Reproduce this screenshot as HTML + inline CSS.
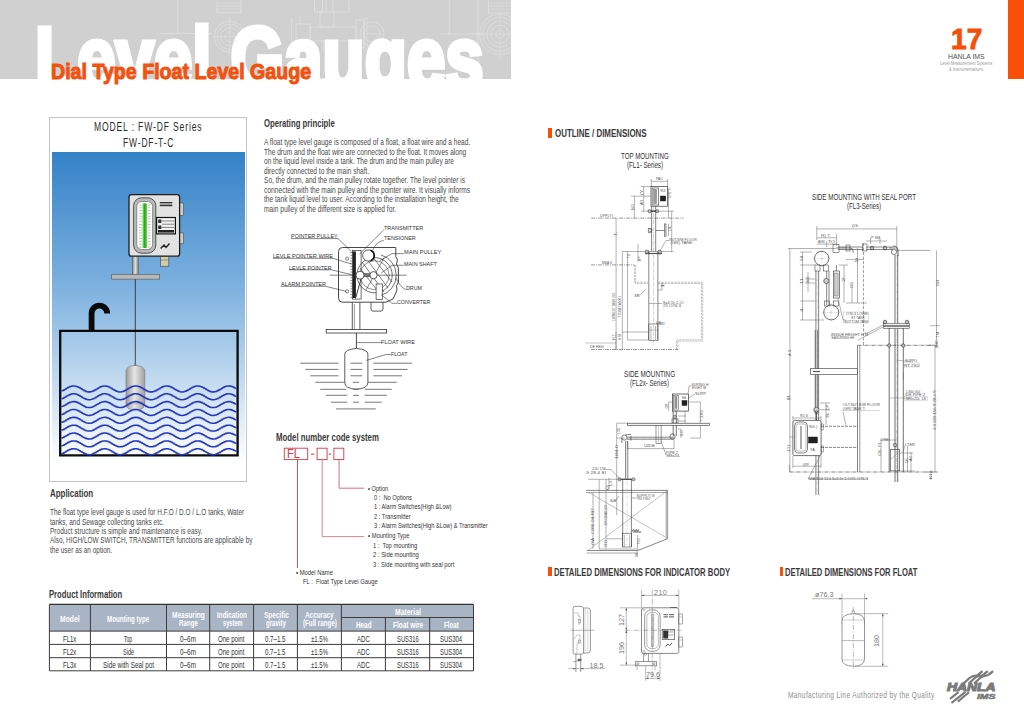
<!DOCTYPE html>
<html><head><meta charset="utf-8"><style>
*{margin:0;padding:0;box-sizing:border-box}
html,body{width:1024px;height:724px;overflow:hidden;background:#fff}
body{position:relative;font-family:"Liberation Sans",sans-serif;color:#3a3a3a}
.a{position:absolute;white-space:nowrap}
.t{position:absolute;white-space:pre;transform-origin:0 50%}
svg{position:absolute;left:0;top:0}
</style></head><body>
<div class="a" style="left:0;top:0;width:511px;height:79px;background:#d0d0d0;overflow:hidden">
<svg width="511" height="79" viewBox="0 0 511 79" style="position:absolute;left:0;top:0">
<line x1="177.8" y1="0" x2="177.8" y2="34" stroke="#e3e3e3" stroke-width="0.7"/>
<line x1="160" y1="33.5" x2="212" y2="33.5" stroke="#e3e3e3" stroke-width="0.7"/>
<rect x="217" y="-1" width="24" height="14" fill="none" stroke="#e3e3e3" stroke-width="0.7"/>
<line x1="217" y1="3" x2="241" y2="3" stroke="#e3e3e3" stroke-width="0.5"/>
<line x1="217" y1="6" x2="241" y2="6" stroke="#e3e3e3" stroke-width="0.5"/>
<line x1="217" y1="9" x2="241" y2="9" stroke="#e3e3e3" stroke-width="0.5"/>
<line x1="217" y1="12" x2="241" y2="12" stroke="#e3e3e3" stroke-width="0.5"/>
<circle cx="229.8" cy="36.8" r="15.5" fill="none" stroke="#e3e3e3" stroke-width="0.6"/>
<circle cx="229.8" cy="36.8" r="12.5" fill="none" stroke="#e3e3e3" stroke-width="0.6"/>
<circle cx="229.8" cy="36.8" r="9" fill="none" stroke="#e3e3e3" stroke-width="0.6"/>
<circle cx="229.8" cy="36.8" r="5" fill="none" stroke="#e3e3e3" stroke-width="0.6"/>
<line x1="229.8" y1="18" x2="229.8" y2="56" stroke="#e3e3e3" stroke-width="0.5"/>
<line x1="212" y1="36.8" x2="248" y2="36.8" stroke="#e3e3e3" stroke-width="0.5"/>
<rect x="314.6" y="-1" width="8" height="13" fill="none" stroke="#e3e3e3" stroke-width="0.7"/>
<rect x="333" y="-1" width="16" height="13" fill="none" stroke="#e3e3e3" stroke-width="0.7"/>
<line x1="326" y1="0" x2="326" y2="12" stroke="#e3e3e3" stroke-width="0.7"/>
<rect x="296" y="24" width="14" height="20" fill="none" stroke="#e3e3e3" stroke-width="0.7"/>
<rect x="310" y="27" width="46" height="14" fill="none" stroke="#e3e3e3" stroke-width="0.7"/>
<rect x="356" y="20" width="8" height="28" fill="none" stroke="#e3e3e3" stroke-width="0.7"/>
<rect x="320" y="12" width="14" height="15" fill="none" stroke="#e3e3e3" stroke-width="0.7"/>
<rect x="323" y="42" width="10" height="8" fill="none" stroke="#e3e3e3" stroke-width="0.7"/>
<line x1="291.7" y1="18" x2="291.7" y2="48" stroke="#e3e3e3" stroke-width="0.7"/>
<line x1="300" y1="17" x2="300" y2="24" stroke="#e3e3e3" stroke-width="0.7"/>
<circle cx="372" cy="34" r="12" fill="none" stroke="#e3e3e3" stroke-width="0.6"/>
<circle cx="372" cy="34" r="8" fill="none" stroke="#e3e3e3" stroke-width="0.5"/>
<line x1="360" y1="34" x2="384" y2="34" stroke="#e3e3e3" stroke-width="0.5"/>
<rect x="364" y="18" width="3" height="32" fill="none" stroke="#e3e3e3" stroke-width="0.5"/>
<line x1="449.2" y1="0" x2="449.2" y2="34.3" stroke="#e3e3e3" stroke-width="0.7"/>
<line x1="440" y1="34" x2="485" y2="34" stroke="#e3e3e3" stroke-width="0.7"/>
<circle cx="500" cy="34.3" r="20.3" fill="none" stroke="#e3e3e3" stroke-width="0.6"/>
<circle cx="500" cy="34.3" r="17" fill="none" stroke="#e3e3e3" stroke-width="0.6"/>
<circle cx="500" cy="34.3" r="13" fill="none" stroke="#e3e3e3" stroke-width="0.6"/>
<circle cx="500" cy="34.3" r="9" fill="none" stroke="#e3e3e3" stroke-width="0.6"/>
<circle cx="500" cy="34.3" r="4" fill="none" stroke="#e3e3e3" stroke-width="0.6"/>
<line x1="477.4" y1="0" x2="477.4" y2="79" stroke="#e3e3e3" stroke-width="0.6"/>
<line x1="479" y1="0" x2="479" y2="79" stroke="#e3e3e3" stroke-width="0.4"/>
<rect x="488.5" y="-1" width="23" height="14" fill="none" stroke="#e3e3e3" stroke-width="0.7"/>
<line x1="488.5" y1="3" x2="511" y2="3" stroke="#e3e3e3" stroke-width="0.5"/>
<line x1="488.5" y1="6" x2="511" y2="6" stroke="#e3e3e3" stroke-width="0.5"/>
<line x1="488.5" y1="9" x2="511" y2="9" stroke="#e3e3e3" stroke-width="0.5"/>
<line x1="500" y1="12" x2="500" y2="60" stroke="#e3e3e3" stroke-width="0.5"/>
<line x1="475" y1="34.3" x2="511" y2="34.3" stroke="#e3e3e3" stroke-width="0.5"/>
</svg>
<div class="t" style="left:35.03px;top:1.19px;font-size:87px;line-height:113.1px;font-weight:bold;color:#fff;transform:scaleX(0.793);-webkit-text-stroke:5px #fff">Level Gauges</div>
</div>
<div class="t" style="left:50.62px;top:58.47px;font-size:22.2px;line-height:28.86px;font-weight:bold;color:#f2520e;transform:scaleX(0.884);-webkit-text-stroke:1px #f2520e">Dial Type Float Level Gauge</div>
<div class="t" style="left:951.16px;top:19.30px;font-size:30px;line-height:39.0px;font-weight:bold;color:#f4500a;transform:scaleX(0.937);-webkit-text-stroke:0.9px #f4500a">17</div>
<div class="t" style="left:947.80px;top:51.92px;font-size:7.0px;line-height:9.1px;font-weight:normal;color:#505050;transform:scaleX(0.980);">HANLA IMS</div>
<div class="t" style="left:940.00px;top:61.11px;font-size:4.5px;line-height:5.85px;font-weight:normal;color:#9a9a9a;transform:scaleX(0.902);">Level Measurement Systems</div>
<div class="t" style="left:949.00px;top:67.41px;font-size:4.5px;line-height:5.85px;font-weight:normal;color:#9a9a9a;transform:scaleX(0.912);">&amp; Instrumentations</div>
<div class="t" style="left:94.40px;top:120.14px;font-size:11.9px;line-height:15.47px;font-weight:normal;color:#2a2a2a;transform:scaleX(0.719);;letter-spacing:1.2px">MODEL : FW-DF Series</div>
<div class="t" style="left:123.00px;top:135.64px;font-size:11.9px;line-height:15.47px;font-weight:normal;color:#2a2a2a;transform:scaleX(0.712);;letter-spacing:1.2px">FW-DF-T-C</div>
<div class="a" style="left:1008px;top:0;width:16px;height:79px;background:#f94f06"></div>
<div class="a" style="left:49px;top:117px;width:198px;height:365px;border:1px solid #c4c4c4"></div>
<div class="a" style="left:52px;top:152px;width:193px;height:310px;background:linear-gradient(#3482c7,#80b3e0 45%,#ffffff 100%)"></div>
<div class="t" style="left:263.70px;top:117.13px;font-size:10.2px;line-height:13.26px;font-weight:bold;color:#3a3a3a;transform:scaleX(0.757);">Operating principle</div>
<div class="t" style="left:263.50px;top:138.23px;font-size:8.2px;line-height:10.66px;font-weight:normal;color:#4a4a4a;transform:scaleX(0.805);">A float type level gauge is composed of a float, a float wire and a head.</div>
<div class="t" style="left:263.50px;top:147.73px;font-size:8.2px;line-height:10.66px;font-weight:normal;color:#4a4a4a;transform:scaleX(0.802);">The drum and the float wire are connected to the float. It moves along</div>
<div class="t" style="left:263.50px;top:157.23px;font-size:8.2px;line-height:10.66px;font-weight:normal;color:#4a4a4a;transform:scaleX(0.797);">on the liquid level inside a tank. The drum and the main pulley are</div>
<div class="t" style="left:263.50px;top:166.73px;font-size:8.2px;line-height:10.66px;font-weight:normal;color:#4a4a4a;transform:scaleX(0.803);">directly connected to the main shaft.</div>
<div class="t" style="left:263.50px;top:176.13px;font-size:8.2px;line-height:10.66px;font-weight:normal;color:#4a4a4a;transform:scaleX(0.802);">So, the drum, and the main pulley rotate together. The level pointer is</div>
<div class="t" style="left:263.50px;top:185.63px;font-size:8.2px;line-height:10.66px;font-weight:normal;color:#4a4a4a;transform:scaleX(0.813);">connected with the main pulley and the pointer wire. It visually informs</div>
<div class="t" style="left:263.50px;top:195.13px;font-size:8.2px;line-height:10.66px;font-weight:normal;color:#4a4a4a;transform:scaleX(0.807);">the tank liquid level to user. According to the installation height, the</div>
<div class="t" style="left:263.50px;top:204.63px;font-size:8.2px;line-height:10.66px;font-weight:normal;color:#4a4a4a;transform:scaleX(0.809);">main pulley of the different size is applied for.</div>
<div class="t" style="left:49.90px;top:486.93px;font-size:10.2px;line-height:13.26px;font-weight:bold;color:#3a3a3a;transform:scaleX(0.778);">Application</div>
<div class="t" style="left:49.60px;top:508.13px;font-size:8.2px;line-height:10.66px;font-weight:normal;color:#4a4a4a;transform:scaleX(0.788);">The float type level gauge is used for H.F.O / D.O / L.O tanks, Water</div>
<div class="t" style="left:49.60px;top:517.53px;font-size:8.2px;line-height:10.66px;font-weight:normal;color:#4a4a4a;transform:scaleX(0.796);">tanks, and Sewage collecting tanks etc.</div>
<div class="t" style="left:49.60px;top:526.93px;font-size:8.2px;line-height:10.66px;font-weight:normal;color:#4a4a4a;transform:scaleX(0.798);">Product structure is simple and maintenance is easy.</div>
<div class="t" style="left:49.60px;top:536.33px;font-size:8.2px;line-height:10.66px;font-weight:normal;color:#4a4a4a;transform:scaleX(0.784);">Also, HIGH/LOW SWITCH, TRANSMITTER functions are applicable by</div>
<div class="t" style="left:49.60px;top:545.73px;font-size:8.2px;line-height:10.66px;font-weight:normal;color:#4a4a4a;transform:scaleX(0.789);">the user as an option.</div>
<div class="t" style="left:49.10px;top:588.03px;font-size:10.2px;line-height:13.26px;font-weight:bold;color:#3a3a3a;transform:scaleX(0.752);">Product Information</div>
<div class="t" style="left:276.40px;top:430.63px;font-size:10.5px;line-height:13.65px;font-weight:bold;color:#3a3a3a;transform:scaleX(0.744);">Model number code system</div>
<div class="t" style="left:367.70px;top:483.53px;font-size:7.8px;line-height:10.14px;font-weight:normal;color:#333;transform:scaleX(0.726);">• Option</div>
<div class="t" style="left:374.00px;top:492.73px;font-size:7.8px;line-height:10.14px;font-weight:normal;color:#333;transform:scaleX(0.729);">0 :  No Options</div>
<div class="t" style="left:374.00px;top:502.13px;font-size:7.8px;line-height:10.14px;font-weight:normal;color:#333;transform:scaleX(0.724);">1 : Alarm Switches(High &amp;Low)</div>
<div class="t" style="left:374.00px;top:511.53px;font-size:7.8px;line-height:10.14px;font-weight:normal;color:#333;transform:scaleX(0.735);">2 : Transmitter</div>
<div class="t" style="left:374.00px;top:521.23px;font-size:7.8px;line-height:10.14px;font-weight:normal;color:#333;transform:scaleX(0.730);">3 : Alarm Switches(High &amp;Low) &amp; Transmitter</div>
<div class="t" style="left:367.70px;top:531.03px;font-size:7.8px;line-height:10.14px;font-weight:normal;color:#333;transform:scaleX(0.741);">• Mounting Type</div>
<div class="t" style="left:373.00px;top:540.63px;font-size:7.8px;line-height:10.14px;font-weight:normal;color:#333;transform:scaleX(0.740);">1 :  Top mounting</div>
<div class="t" style="left:373.00px;top:549.93px;font-size:7.8px;line-height:10.14px;font-weight:normal;color:#333;transform:scaleX(0.754);">2 : Side mounting</div>
<div class="t" style="left:373.00px;top:559.73px;font-size:7.8px;line-height:10.14px;font-weight:normal;color:#333;transform:scaleX(0.748);">3 : Side mounting with seal port</div>
<div class="t" style="left:296.30px;top:568.13px;font-size:7.8px;line-height:10.14px;font-weight:normal;color:#333;transform:scaleX(0.753);">• Model Name</div>
<div class="t" style="left:302.70px;top:577.33px;font-size:7.8px;line-height:10.14px;font-weight:normal;color:#333;transform:scaleX(0.746);">FL :  Float Type Level Gauge</div>
<div class="t" style="left:554.60px;top:126.73px;font-size:10.4px;line-height:13.52px;font-weight:bold;color:#3a3a3a;transform:scaleX(0.763);">OUTLINE / DIMENSIONS</div>
<div class="t" style="left:553.70px;top:566.03px;font-size:10.2px;line-height:13.26px;font-weight:bold;color:#3a3a3a;transform:scaleX(0.757);">DETAILED DIMENSIONS FOR INDICATOR BODY</div>
<div class="t" style="left:785.00px;top:566.03px;font-size:10.2px;line-height:13.26px;font-weight:bold;color:#3a3a3a;transform:scaleX(0.744);">DETAILED DIMENSIONS FOR FLOAT</div>
<svg width="1024" height="724" style="position:absolute;left:0;top:0">
<rect x="49.4" y="604.4" width="424.1" height="26.700000000000045" fill="#a9b5c5"/>
<line x1="49.4" y1="604.4" x2="49.4" y2="670.8" stroke="#3c3c3c" stroke-width="1"/>
<line x1="90.4" y1="604.4" x2="90.4" y2="670.8" stroke="#3c3c3c" stroke-width="1"/>
<line x1="166.5" y1="604.4" x2="166.5" y2="670.8" stroke="#3c3c3c" stroke-width="1"/>
<line x1="209.7" y1="604.4" x2="209.7" y2="670.8" stroke="#3c3c3c" stroke-width="1"/>
<line x1="253.6" y1="604.4" x2="253.6" y2="670.8" stroke="#3c3c3c" stroke-width="1"/>
<line x1="297.4" y1="604.4" x2="297.4" y2="670.8" stroke="#3c3c3c" stroke-width="1"/>
<line x1="341.4" y1="604.4" x2="341.4" y2="670.8" stroke="#3c3c3c" stroke-width="1"/>
<line x1="385.4" y1="617.5" x2="385.4" y2="670.8" stroke="#3c3c3c" stroke-width="1"/>
<line x1="429.7" y1="617.5" x2="429.7" y2="670.8" stroke="#3c3c3c" stroke-width="1"/>
<line x1="473.5" y1="604.4" x2="473.5" y2="670.8" stroke="#3c3c3c" stroke-width="1"/>
<line x1="49.4" y1="604.4" x2="473.5" y2="604.4" stroke="#333" stroke-width="1.2"/>
<line x1="341.4" y1="617.5" x2="473.5" y2="617.5" stroke="#3c3c3c" stroke-width="1"/>
<line x1="49.4" y1="631.1" x2="473.5" y2="631.1" stroke="#3c3c3c" stroke-width="1"/>
<line x1="49.4" y1="644.4" x2="473.5" y2="644.4" stroke="#3c3c3c" stroke-width="1"/>
<line x1="49.4" y1="657.7" x2="473.5" y2="657.7" stroke="#3c3c3c" stroke-width="1"/>
<line x1="49.4" y1="670.8" x2="473.5" y2="670.8" stroke="#3c3c3c" stroke-width="1"/>
</svg>
<div class="t" style="left:60.20px;top:612.53px;font-size:9.4px;line-height:12.22px;font-weight:bold;color:#fff;transform:scaleX(0.721);">Model</div>
<div class="t" style="left:107.00px;top:612.53px;font-size:9.4px;line-height:12.22px;font-weight:bold;color:#fff;transform:scaleX(0.659);">Mounting type</div>
<div class="t" style="left:171.50px;top:608.83px;font-size:9.4px;line-height:12.22px;font-weight:bold;color:#fff;transform:scaleX(0.698);">Measuring</div>
<div class="t" style="left:178.60px;top:617.43px;font-size:9.4px;line-height:12.22px;font-weight:bold;color:#fff;transform:scaleX(0.658);">Range</div>
<div class="t" style="left:216.80px;top:608.83px;font-size:9.4px;line-height:12.22px;font-weight:bold;color:#fff;transform:scaleX(0.676);">Indication</div>
<div class="t" style="left:222.60px;top:617.43px;font-size:9.4px;line-height:12.22px;font-weight:bold;color:#fff;transform:scaleX(0.607);">system</div>
<div class="t" style="left:263.50px;top:608.83px;font-size:9.4px;line-height:12.22px;font-weight:bold;color:#fff;transform:scaleX(0.691);">Specific</div>
<div class="t" style="left:265.70px;top:617.43px;font-size:9.4px;line-height:12.22px;font-weight:bold;color:#fff;transform:scaleX(0.644);">gravity</div>
<div class="t" style="left:305.00px;top:608.83px;font-size:9.4px;line-height:12.22px;font-weight:bold;color:#fff;transform:scaleX(0.679);">Accuracy</div>
<div class="t" style="left:302.80px;top:617.43px;font-size:9.4px;line-height:12.22px;font-weight:bold;color:#fff;transform:scaleX(0.662);">(Full range)</div>
<div class="t" style="left:394.90px;top:605.83px;font-size:9.4px;line-height:12.22px;font-weight:bold;color:#fff;transform:scaleX(0.729);">Material</div>
<div class="t" style="left:355.60px;top:619.33px;font-size:9.4px;line-height:12.22px;font-weight:bold;color:#fff;transform:scaleX(0.677);">Head</div>
<div class="t" style="left:392.60px;top:619.33px;font-size:9.4px;line-height:12.22px;font-weight:bold;color:#fff;transform:scaleX(0.687);">Float wire</div>
<div class="t" style="left:444.30px;top:619.33px;font-size:9.4px;line-height:12.22px;font-weight:bold;color:#fff;transform:scaleX(0.656);">Float</div>
<div class="t" style="left:63.25px;top:634.73px;font-size:8.2px;line-height:10.66px;font-weight:normal;color:#333;transform:scaleX(0.734);">FL1x</div>
<div class="t" style="left:124.30px;top:634.73px;font-size:8.2px;line-height:10.66px;font-weight:normal;color:#333;transform:scaleX(0.608);">Top</div>
<div class="t" style="left:180.05px;top:634.73px;font-size:8.2px;line-height:10.66px;font-weight:normal;color:#333;transform:scaleX(0.779);">0–6m</div>
<div class="t" style="left:218.20px;top:634.73px;font-size:8.2px;line-height:10.66px;font-weight:normal;color:#333;transform:scaleX(0.742);">One point</div>
<div class="t" style="left:265.15px;top:634.73px;font-size:8.2px;line-height:10.66px;font-weight:normal;color:#333;transform:scaleX(0.746);">0.7–1.5</div>
<div class="t" style="left:310.95px;top:634.73px;font-size:8.2px;line-height:10.66px;font-weight:normal;color:#333;transform:scaleX(0.739);">±1.5%</div>
<div class="t" style="left:357.00px;top:634.73px;font-size:8.2px;line-height:10.66px;font-weight:normal;color:#333;transform:scaleX(0.737);">ADC</div>
<div class="t" style="left:396.50px;top:634.73px;font-size:8.2px;line-height:10.66px;font-weight:normal;color:#333;transform:scaleX(0.714);">SUS316</div>
<div class="t" style="left:440.35px;top:634.73px;font-size:8.2px;line-height:10.66px;font-weight:normal;color:#333;transform:scaleX(0.727);">SUS304</div>
<div class="t" style="left:63.25px;top:648.03px;font-size:8.2px;line-height:10.66px;font-weight:normal;color:#333;transform:scaleX(0.734);">FL2x</div>
<div class="t" style="left:122.70px;top:648.03px;font-size:8.2px;line-height:10.66px;font-weight:normal;color:#333;transform:scaleX(0.683);">Side</div>
<div class="t" style="left:180.05px;top:648.03px;font-size:8.2px;line-height:10.66px;font-weight:normal;color:#333;transform:scaleX(0.779);">0–6m</div>
<div class="t" style="left:218.20px;top:648.03px;font-size:8.2px;line-height:10.66px;font-weight:normal;color:#333;transform:scaleX(0.742);">One point</div>
<div class="t" style="left:265.15px;top:648.03px;font-size:8.2px;line-height:10.66px;font-weight:normal;color:#333;transform:scaleX(0.746);">0.7–1.5</div>
<div class="t" style="left:310.95px;top:648.03px;font-size:8.2px;line-height:10.66px;font-weight:normal;color:#333;transform:scaleX(0.739);">±1.5%</div>
<div class="t" style="left:357.00px;top:648.03px;font-size:8.2px;line-height:10.66px;font-weight:normal;color:#333;transform:scaleX(0.737);">ADC</div>
<div class="t" style="left:396.50px;top:648.03px;font-size:8.2px;line-height:10.66px;font-weight:normal;color:#333;transform:scaleX(0.714);">SUS316</div>
<div class="t" style="left:440.35px;top:648.03px;font-size:8.2px;line-height:10.66px;font-weight:normal;color:#333;transform:scaleX(0.727);">SUS304</div>
<div class="t" style="left:63.25px;top:661.33px;font-size:8.2px;line-height:10.66px;font-weight:normal;color:#333;transform:scaleX(0.734);">FL3x</div>
<div class="t" style="left:102.65px;top:661.33px;font-size:8.2px;line-height:10.66px;font-weight:normal;color:#333;transform:scaleX(0.779);">Side with Seal pot</div>
<div class="t" style="left:180.05px;top:661.33px;font-size:8.2px;line-height:10.66px;font-weight:normal;color:#333;transform:scaleX(0.779);">0–6m</div>
<div class="t" style="left:218.20px;top:661.33px;font-size:8.2px;line-height:10.66px;font-weight:normal;color:#333;transform:scaleX(0.742);">One point</div>
<div class="t" style="left:265.15px;top:661.33px;font-size:8.2px;line-height:10.66px;font-weight:normal;color:#333;transform:scaleX(0.746);">0.7–1.5</div>
<div class="t" style="left:310.95px;top:661.33px;font-size:8.2px;line-height:10.66px;font-weight:normal;color:#333;transform:scaleX(0.739);">±1.5%</div>
<div class="t" style="left:357.00px;top:661.33px;font-size:8.2px;line-height:10.66px;font-weight:normal;color:#333;transform:scaleX(0.737);">ADC</div>
<div class="t" style="left:396.50px;top:661.33px;font-size:8.2px;line-height:10.66px;font-weight:normal;color:#333;transform:scaleX(0.714);">SUS316</div>
<div class="t" style="left:440.35px;top:661.33px;font-size:8.2px;line-height:10.66px;font-weight:normal;color:#333;transform:scaleX(0.727);">SUS304</div>
<div class="a" style="left:548.3px;top:128px;width:3.6px;height:9.6px;background:#f94f06"></div>
<div class="a" style="left:548.3px;top:566.8px;width:3.6px;height:9.6px;background:#f94f06"></div>
<div class="a" style="left:779.7px;top:566.8px;width:3.6px;height:9.6px;background:#f94f06"></div>
<svg width="1024" height="724" viewBox="0 0 1024 724">
<defs><linearGradient id="flt" x1="0" x2="1" y1="0" y2="0"><stop offset="0" stop-color="#9a9a9a"/><stop offset="0.45" stop-color="#e6e6e6"/><stop offset="1" stop-color="#a0a0a0"/></linearGradient><linearGradient id="stm" x1="0" x2="1"><stop offset="0" stop-color="#8a8a8a"/><stop offset="0.5" stop-color="#e0e0e0"/><stop offset="1" stop-color="#8a8a8a"/></linearGradient></defs>
<line x1="135.3" y1="278" x2="135.3" y2="366" stroke="#222" stroke-width="0.8"/>
<rect x="132.4" y="255" width="5.8" height="20" fill="url(#stm)" stroke="#555" stroke-width="0.6"/>
<rect x="111.7" y="274.5" width="48" height="4.6" fill="#b8b8b8" stroke="#555" stroke-width="0.6"/>
<rect x="160.5" y="256" width="8.3" height="10.2" fill="#cfcfaf" stroke="#444" stroke-width="0.6"/>
<line x1="160.5" y1="260" x2="168.8" y2="260" stroke="#555" stroke-width="0.5"/>
<rect x="179" y="203" width="4.6" height="12.6" fill="#cfcfcf" stroke="#444" stroke-width="0.6"/>
<rect x="179" y="233" width="4.6" height="10.8" fill="#cfcfcf" stroke="#444" stroke-width="0.6"/>
<rect x="129" y="194.6" width="50.6" height="61.6" rx="2.5" fill="#e2e2e2" stroke="#1e1e1e" stroke-width="1.3"/>
<rect x="133.6" y="197.8" width="22.2" height="55.4" rx="8" fill="#b9b9b9" stroke="#333" stroke-width="0.8"/>
<rect x="136.8" y="201.5" width="15.8" height="48" rx="5" fill="#ffffff" stroke="#555" stroke-width="0.6"/>
<rect x="142.6" y="203.5" width="4.4" height="44.5" fill="#4fd63c"/>
<rect x="144.2" y="203.5" width="1.2" height="44.5" fill="#3a8a30"/>
<line x1="139" y1="205.0" x2="142" y2="205.0" stroke="#666" stroke-width="0.4"/>
<line x1="147.6" y1="205.0" x2="150.6" y2="205.0" stroke="#666" stroke-width="0.4"/>
<line x1="139" y1="207.8" x2="142" y2="207.8" stroke="#666" stroke-width="0.4"/>
<line x1="147.6" y1="207.8" x2="150.6" y2="207.8" stroke="#666" stroke-width="0.4"/>
<line x1="139" y1="210.6" x2="142" y2="210.6" stroke="#666" stroke-width="0.4"/>
<line x1="147.6" y1="210.6" x2="150.6" y2="210.6" stroke="#666" stroke-width="0.4"/>
<line x1="139" y1="213.4" x2="142" y2="213.4" stroke="#666" stroke-width="0.4"/>
<line x1="147.6" y1="213.4" x2="150.6" y2="213.4" stroke="#666" stroke-width="0.4"/>
<line x1="139" y1="216.2" x2="142" y2="216.2" stroke="#666" stroke-width="0.4"/>
<line x1="147.6" y1="216.2" x2="150.6" y2="216.2" stroke="#666" stroke-width="0.4"/>
<line x1="139" y1="219.0" x2="142" y2="219.0" stroke="#666" stroke-width="0.4"/>
<line x1="147.6" y1="219.0" x2="150.6" y2="219.0" stroke="#666" stroke-width="0.4"/>
<line x1="139" y1="221.8" x2="142" y2="221.8" stroke="#666" stroke-width="0.4"/>
<line x1="147.6" y1="221.8" x2="150.6" y2="221.8" stroke="#666" stroke-width="0.4"/>
<line x1="139" y1="224.6" x2="142" y2="224.6" stroke="#666" stroke-width="0.4"/>
<line x1="147.6" y1="224.6" x2="150.6" y2="224.6" stroke="#666" stroke-width="0.4"/>
<line x1="139" y1="227.4" x2="142" y2="227.4" stroke="#666" stroke-width="0.4"/>
<line x1="147.6" y1="227.4" x2="150.6" y2="227.4" stroke="#666" stroke-width="0.4"/>
<line x1="139" y1="230.2" x2="142" y2="230.2" stroke="#666" stroke-width="0.4"/>
<line x1="147.6" y1="230.2" x2="150.6" y2="230.2" stroke="#666" stroke-width="0.4"/>
<line x1="139" y1="233.0" x2="142" y2="233.0" stroke="#666" stroke-width="0.4"/>
<line x1="147.6" y1="233.0" x2="150.6" y2="233.0" stroke="#666" stroke-width="0.4"/>
<line x1="139" y1="235.8" x2="142" y2="235.8" stroke="#666" stroke-width="0.4"/>
<line x1="147.6" y1="235.8" x2="150.6" y2="235.8" stroke="#666" stroke-width="0.4"/>
<line x1="139" y1="238.6" x2="142" y2="238.6" stroke="#666" stroke-width="0.4"/>
<line x1="147.6" y1="238.6" x2="150.6" y2="238.6" stroke="#666" stroke-width="0.4"/>
<line x1="139" y1="241.4" x2="142" y2="241.4" stroke="#666" stroke-width="0.4"/>
<line x1="147.6" y1="241.4" x2="150.6" y2="241.4" stroke="#666" stroke-width="0.4"/>
<line x1="139" y1="244.2" x2="142" y2="244.2" stroke="#666" stroke-width="0.4"/>
<line x1="147.6" y1="244.2" x2="150.6" y2="244.2" stroke="#666" stroke-width="0.4"/>
<line x1="139" y1="247.0" x2="142" y2="247.0" stroke="#666" stroke-width="0.4"/>
<line x1="147.6" y1="247.0" x2="150.6" y2="247.0" stroke="#666" stroke-width="0.4"/>
<rect x="159.8" y="202" width="12.5" height="1.4" fill="#333"/>
<rect x="159.8" y="204.6" width="12.5" height="1.6" fill="#333"/>
<rect x="156.6" y="217.5" width="18.8" height="16.4" fill="#f4f4f4" stroke="#111" stroke-width="1.2"/>
<line x1="162" y1="221" x2="174" y2="221" stroke="#333" stroke-width="0.6"/>
<line x1="162" y1="224.2" x2="174" y2="224.2" stroke="#333" stroke-width="0.6"/>
<line x1="162" y1="227.4" x2="174" y2="227.4" stroke="#333" stroke-width="0.6"/>
<line x1="162" y1="230.6" x2="174" y2="230.6" stroke="#333" stroke-width="0.6"/>
<rect x="158.2" y="219.5" width="3.2" height="3.5" fill="#333"/>
<rect x="158.2" y="225.5" width="3.2" height="3.5" fill="#333"/>
<rect x="158" y="230" width="16" height="2.6" fill="#222"/>
<path d="M160.6 248.5 L164 245 L166 247.5 L169.5 243.5" fill="none" stroke="#222" stroke-width="1.4"/>
<path d="M91.6 331 L91.6 313.4 A7.8 7.8 0 0 1 107.2 313.4" fill="none" stroke="#0a0a0a" stroke-width="5.8"/>
<path d="M60.2 330.8 L237.6 330.8 L237.6 455.4 L60.2 455.4 Z" fill="none" stroke="#0a0a0a" stroke-width="2.3"/>
<path d="M126 371 Q126 366 135.3 365.4 Q144.8 366 144.8 371 L144.8 404 Q144.8 409.8 135.3 410 Q126 409.8 126 404 Z" fill="url(#flt)" stroke="#777" stroke-width="0.6"/>
<path d="M126 403 Q135.3 405 144.8 403" fill="none" stroke="#888" stroke-width="0.5"/>
<path d="M134 365.5 L136.6 365.5 L136 363.5 L134.6 363.5 Z" fill="#777"/>
<path d="M62 391.3 L62 390.8 L64 390.3 L64 389.8 L66 389.2 L66 388.6 L68 388.0 L68 387.4 L70 386.9 L70 386.5 L72 386.2 L72 386.0 L74 385.9 L74 385.9 L76 386.1 L76 386.4 L78 386.7 L78 387.2 L80 387.7 L80 388.3 L82 388.9 L82 389.5 L84 390.1 L84 390.6 L86 391.1 L86 391.5 L88 391.7 L88 391.9 L90 391.9 L90 391.8 L92 391.6 L92 391.3 L94 390.8 L94 390.3 L96 389.8 L96 389.2 L98 388.6 L98 388.0 L100 387.4 L100 386.9 L102 386.5 L102 386.2 L104 386.0 L104 385.9 L106 385.9 L106 386.1 L108 386.4 L108 386.7 L110 387.2 L110 387.7 L112 388.3 L112 388.9 L114 389.5 L114 390.1 L116 390.6 L116 391.1 L118 391.5 L118 391.7 L120 391.9 L120 391.9 L122 391.8 L122 391.6 L124 391.3 L124 390.8 L126 390.3 L126 389.8 L128 389.2 L128 388.6 L130 388.0 L130 387.4 L132 386.9 L132 386.5 L134 386.2 L134 386.0 L136 385.9 L136 385.9 L138 386.1 L138 386.4 L140 386.7 L140 387.2 L142 387.7 L142 388.3 L144 388.9 L144 389.5 L146 390.1 L146 390.6 L148 391.1 L148 391.5 L150 391.7 L150 391.9 L152 391.9 L152 391.8 L154 391.6 L154 391.3 L156 390.8 L156 390.3 L158 389.8 L158 389.2 L160 388.6 L160 388.0 L162 387.4 L162 386.9 L164 386.5 L164 386.2 L166 386.0 L166 385.9 L168 385.9 L168 386.1 L170 386.4 L170 386.7 L172 387.2 L172 387.7 L174 388.3 L174 388.9 L176 389.5 L176 390.1 L178 390.6 L178 391.1 L180 391.5 L180 391.7 L182 391.9 L182 391.9 L184 391.8 L184 391.6 L186 391.3 L186 390.8 L188 390.3 L188 389.8 L190 389.2 L190 388.6 L192 388.0 L192 387.4 L194 386.9 L194 386.5 L196 386.2 L196 386.0 L198 385.9 L198 385.9 L200 386.1 L200 386.4 L202 386.7 L202 387.2 L204 387.7 L204 388.3 L206 388.9 L206 389.5 L208 390.1 L208 390.6 L210 391.1 L210 391.5 L212 391.7 L212 391.9 L214 391.9 L214 391.8 L216 391.6 L216 391.3 L218 390.8 L218 390.3 L220 389.8 L220 389.2 L222 388.6 L222 388.0 L224 387.4 L224 386.9 L226 386.5 L226 386.2 L228 386.0 L228 385.9 L230 385.9 L230 386.1 L232 386.4 L232 386.7 L234 387.2 L234 387.7 L236 388.3 L236 388.9" fill="none" stroke="#2535bd" stroke-width="1.5"/>
<path d="M62 399.1 L62 398.7 L64 398.2 L64 397.6 L66 397.0 L66 396.4 L68 395.8 L68 395.3 L70 394.8 L70 394.4 L72 394.0 L72 393.8 L74 393.8 L74 393.8 L76 393.9 L76 394.2 L78 394.6 L78 395.1 L80 395.6 L80 396.2 L82 396.8 L82 397.4 L84 398.0 L84 398.5 L86 398.9 L86 399.3 L88 399.6 L88 399.7 L90 399.7 L90 399.6 L92 399.4 L92 399.1 L94 398.7 L94 398.2 L96 397.6 L96 397.0 L98 396.4 L98 395.8 L100 395.3 L100 394.8 L102 394.4 L102 394.0 L104 393.8 L104 393.8 L106 393.8 L106 393.9 L108 394.2 L108 394.6 L110 395.1 L110 395.6 L112 396.2 L112 396.8 L114 397.4 L114 398.0 L116 398.5 L116 398.9 L118 399.3 L118 399.6 L120 399.7 L120 399.7 L122 399.6 L122 399.4 L124 399.1 L124 398.7 L126 398.2 L126 397.6 L128 397.0 L128 396.4 L130 395.8 L130 395.3 L132 394.8 L132 394.4 L134 394.0 L134 393.8 L136 393.8 L136 393.8 L138 393.9 L138 394.2 L140 394.6 L140 395.1 L142 395.6 L142 396.2 L144 396.8 L144 397.4 L146 398.0 L146 398.5 L148 398.9 L148 399.3 L150 399.6 L150 399.7 L152 399.7 L152 399.6 L154 399.4 L154 399.1 L156 398.7 L156 398.2 L158 397.6 L158 397.0 L160 396.4 L160 395.8 L162 395.3 L162 394.8 L164 394.4 L164 394.0 L166 393.8 L166 393.8 L168 393.8 L168 393.9 L170 394.2 L170 394.6 L172 395.1 L172 395.6 L174 396.2 L174 396.8 L176 397.4 L176 398.0 L178 398.5 L178 398.9 L180 399.3 L180 399.6 L182 399.7 L182 399.7 L184 399.6 L184 399.4 L186 399.1 L186 398.7 L188 398.2 L188 397.6 L190 397.0 L190 396.4 L192 395.8 L192 395.3 L194 394.8 L194 394.4 L196 394.0 L196 393.8 L198 393.8 L198 393.8 L200 393.9 L200 394.2 L202 394.6 L202 395.1 L204 395.6 L204 396.2 L206 396.8 L206 397.4 L208 398.0 L208 398.5 L210 398.9 L210 399.3 L212 399.6 L212 399.7 L214 399.7 L214 399.6 L216 399.4 L216 399.1 L218 398.7 L218 398.2 L220 397.6 L220 397.0 L222 396.4 L222 395.8 L224 395.3 L224 394.8 L226 394.4 L226 394.0 L228 393.8 L228 393.8 L230 393.8 L230 393.9 L232 394.2 L232 394.6 L234 395.1 L234 395.6 L236 396.2 L236 396.8" fill="none" stroke="#2535bd" stroke-width="1.5"/>
<path d="M62 407.0 L62 406.5 L64 406.0 L64 405.5 L66 404.9 L66 404.3 L68 403.7 L68 403.1 L70 402.6 L70 402.2 L72 401.9 L72 401.7 L74 401.6 L74 401.6 L76 401.8 L76 402.1 L78 402.4 L78 402.9 L80 403.4 L80 404.0 L82 404.6 L82 405.2 L84 405.8 L84 406.3 L86 406.8 L86 407.2 L88 407.4 L88 407.6 L90 407.6 L90 407.5 L92 407.3 L92 407.0 L94 406.5 L94 406.0 L96 405.5 L96 404.9 L98 404.3 L98 403.7 L100 403.1 L100 402.6 L102 402.2 L102 401.9 L104 401.7 L104 401.6 L106 401.6 L106 401.8 L108 402.1 L108 402.4 L110 402.9 L110 403.4 L112 404.0 L112 404.6 L114 405.2 L114 405.8 L116 406.3 L116 406.8 L118 407.2 L118 407.4 L120 407.6 L120 407.6 L122 407.5 L122 407.3 L124 407.0 L124 406.5 L126 406.0 L126 405.5 L128 404.9 L128 404.3 L130 403.7 L130 403.1 L132 402.6 L132 402.2 L134 401.9 L134 401.7 L136 401.6 L136 401.6 L138 401.8 L138 402.1 L140 402.4 L140 402.9 L142 403.4 L142 404.0 L144 404.6 L144 405.2 L146 405.8 L146 406.3 L148 406.8 L148 407.2 L150 407.4 L150 407.6 L152 407.6 L152 407.5 L154 407.3 L154 407.0 L156 406.5 L156 406.0 L158 405.5 L158 404.9 L160 404.3 L160 403.7 L162 403.1 L162 402.6 L164 402.2 L164 401.9 L166 401.7 L166 401.6 L168 401.6 L168 401.8 L170 402.1 L170 402.4 L172 402.9 L172 403.4 L174 404.0 L174 404.6 L176 405.2 L176 405.8 L178 406.3 L178 406.8 L180 407.2 L180 407.4 L182 407.6 L182 407.6 L184 407.5 L184 407.3 L186 407.0 L186 406.5 L188 406.0 L188 405.5 L190 404.9 L190 404.3 L192 403.7 L192 403.1 L194 402.6 L194 402.2 L196 401.9 L196 401.7 L198 401.6 L198 401.6 L200 401.8 L200 402.1 L202 402.4 L202 402.9 L204 403.4 L204 404.0 L206 404.6 L206 405.2 L208 405.8 L208 406.3 L210 406.8 L210 407.2 L212 407.4 L212 407.6 L214 407.6 L214 407.5 L216 407.3 L216 407.0 L218 406.5 L218 406.0 L220 405.5 L220 404.9 L222 404.3 L222 403.7 L224 403.1 L224 402.6 L226 402.2 L226 401.9 L228 401.7 L228 401.6 L230 401.6 L230 401.8 L232 402.1 L232 402.4 L234 402.9 L234 403.4 L236 404.0 L236 404.6" fill="none" stroke="#2535bd" stroke-width="1.5"/>
<path d="M62 414.8 L62 414.4 L64 413.9 L64 413.3 L66 412.7 L66 412.1 L68 411.5 L68 411.0 L70 410.5 L70 410.1 L72 409.7 L72 409.5 L74 409.5 L74 409.5 L76 409.6 L76 409.9 L78 410.3 L78 410.8 L80 411.3 L80 411.9 L82 412.5 L82 413.1 L84 413.7 L84 414.2 L86 414.6 L86 415.0 L88 415.3 L88 415.4 L90 415.4 L90 415.3 L92 415.1 L92 414.8 L94 414.4 L94 413.9 L96 413.3 L96 412.7 L98 412.1 L98 411.5 L100 411.0 L100 410.5 L102 410.1 L102 409.7 L104 409.5 L104 409.5 L106 409.5 L106 409.6 L108 409.9 L108 410.3 L110 410.8 L110 411.3 L112 411.9 L112 412.5 L114 413.1 L114 413.7 L116 414.2 L116 414.6 L118 415.0 L118 415.3 L120 415.4 L120 415.4 L122 415.3 L122 415.1 L124 414.8 L124 414.4 L126 413.9 L126 413.3 L128 412.7 L128 412.1 L130 411.5 L130 411.0 L132 410.5 L132 410.1 L134 409.7 L134 409.5 L136 409.5 L136 409.5 L138 409.6 L138 409.9 L140 410.3 L140 410.8 L142 411.3 L142 411.9 L144 412.5 L144 413.1 L146 413.7 L146 414.2 L148 414.6 L148 415.0 L150 415.3 L150 415.4 L152 415.4 L152 415.3 L154 415.1 L154 414.8 L156 414.4 L156 413.9 L158 413.3 L158 412.7 L160 412.1 L160 411.5 L162 411.0 L162 410.5 L164 410.1 L164 409.7 L166 409.5 L166 409.5 L168 409.5 L168 409.6 L170 409.9 L170 410.3 L172 410.8 L172 411.3 L174 411.9 L174 412.5 L176 413.1 L176 413.7 L178 414.2 L178 414.6 L180 415.0 L180 415.3 L182 415.4 L182 415.4 L184 415.3 L184 415.1 L186 414.8 L186 414.4 L188 413.9 L188 413.3 L190 412.7 L190 412.1 L192 411.5 L192 411.0 L194 410.5 L194 410.1 L196 409.7 L196 409.5 L198 409.5 L198 409.5 L200 409.6 L200 409.9 L202 410.3 L202 410.8 L204 411.3 L204 411.9 L206 412.5 L206 413.1 L208 413.7 L208 414.2 L210 414.6 L210 415.0 L212 415.3 L212 415.4 L214 415.4 L214 415.3 L216 415.1 L216 414.8 L218 414.4 L218 413.9 L220 413.3 L220 412.7 L222 412.1 L222 411.5 L224 411.0 L224 410.5 L226 410.1 L226 409.7 L228 409.5 L228 409.5 L230 409.5 L230 409.6 L232 409.9 L232 410.3 L234 410.8 L234 411.3 L236 411.9 L236 412.5" fill="none" stroke="#2535bd" stroke-width="1.5"/>
<path d="M62 422.7 L62 422.2 L64 421.7 L64 421.2 L66 420.6 L66 420.0 L68 419.4 L68 418.8 L70 418.3 L70 417.9 L72 417.6 L72 417.4 L74 417.3 L74 417.3 L76 417.5 L76 417.8 L78 418.1 L78 418.6 L80 419.1 L80 419.7 L82 420.3 L82 420.9 L84 421.5 L84 422.0 L86 422.5 L86 422.9 L88 423.1 L88 423.3 L90 423.3 L90 423.2 L92 423.0 L92 422.7 L94 422.2 L94 421.7 L96 421.2 L96 420.6 L98 420.0 L98 419.4 L100 418.8 L100 418.3 L102 417.9 L102 417.6 L104 417.4 L104 417.3 L106 417.3 L106 417.5 L108 417.8 L108 418.1 L110 418.6 L110 419.1 L112 419.7 L112 420.3 L114 420.9 L114 421.5 L116 422.0 L116 422.5 L118 422.9 L118 423.1 L120 423.3 L120 423.3 L122 423.2 L122 423.0 L124 422.7 L124 422.2 L126 421.7 L126 421.2 L128 420.6 L128 420.0 L130 419.4 L130 418.8 L132 418.3 L132 417.9 L134 417.6 L134 417.4 L136 417.3 L136 417.3 L138 417.5 L138 417.8 L140 418.1 L140 418.6 L142 419.1 L142 419.7 L144 420.3 L144 420.9 L146 421.5 L146 422.0 L148 422.5 L148 422.9 L150 423.1 L150 423.3 L152 423.3 L152 423.2 L154 423.0 L154 422.7 L156 422.2 L156 421.7 L158 421.2 L158 420.6 L160 420.0 L160 419.4 L162 418.8 L162 418.3 L164 417.9 L164 417.6 L166 417.4 L166 417.3 L168 417.3 L168 417.5 L170 417.8 L170 418.1 L172 418.6 L172 419.1 L174 419.7 L174 420.3 L176 420.9 L176 421.5 L178 422.0 L178 422.5 L180 422.9 L180 423.1 L182 423.3 L182 423.3 L184 423.2 L184 423.0 L186 422.7 L186 422.2 L188 421.7 L188 421.2 L190 420.6 L190 420.0 L192 419.4 L192 418.8 L194 418.3 L194 417.9 L196 417.6 L196 417.4 L198 417.3 L198 417.3 L200 417.5 L200 417.8 L202 418.1 L202 418.6 L204 419.1 L204 419.7 L206 420.3 L206 420.9 L208 421.5 L208 422.0 L210 422.5 L210 422.9 L212 423.1 L212 423.3 L214 423.3 L214 423.2 L216 423.0 L216 422.7 L218 422.2 L218 421.7 L220 421.2 L220 420.6 L222 420.0 L222 419.4 L224 418.8 L224 418.3 L226 417.9 L226 417.6 L228 417.4 L228 417.3 L230 417.3 L230 417.5 L232 417.8 L232 418.1 L234 418.6 L234 419.1 L236 419.7 L236 420.3" fill="none" stroke="#2535bd" stroke-width="1.5"/>
<path d="M62 430.5 L62 430.1 L64 429.6 L64 429.0 L66 428.4 L66 427.8 L68 427.2 L68 426.7 L70 426.2 L70 425.8 L72 425.4 L72 425.2 L74 425.2 L74 425.2 L76 425.3 L76 425.6 L78 426.0 L78 426.5 L80 427.0 L80 427.6 L82 428.2 L82 428.8 L84 429.4 L84 429.9 L86 430.3 L86 430.7 L88 431.0 L88 431.1 L90 431.1 L90 431.0 L92 430.8 L92 430.5 L94 430.1 L94 429.6 L96 429.0 L96 428.4 L98 427.8 L98 427.2 L100 426.7 L100 426.2 L102 425.8 L102 425.4 L104 425.2 L104 425.2 L106 425.2 L106 425.3 L108 425.6 L108 426.0 L110 426.5 L110 427.0 L112 427.6 L112 428.2 L114 428.8 L114 429.4 L116 429.9 L116 430.3 L118 430.7 L118 431.0 L120 431.1 L120 431.1 L122 431.0 L122 430.8 L124 430.5 L124 430.1 L126 429.6 L126 429.0 L128 428.4 L128 427.8 L130 427.2 L130 426.7 L132 426.2 L132 425.8 L134 425.4 L134 425.2 L136 425.2 L136 425.2 L138 425.3 L138 425.6 L140 426.0 L140 426.5 L142 427.0 L142 427.6 L144 428.2 L144 428.8 L146 429.4 L146 429.9 L148 430.3 L148 430.7 L150 431.0 L150 431.1 L152 431.1 L152 431.0 L154 430.8 L154 430.5 L156 430.1 L156 429.6 L158 429.0 L158 428.4 L160 427.8 L160 427.2 L162 426.7 L162 426.2 L164 425.8 L164 425.4 L166 425.2 L166 425.2 L168 425.2 L168 425.3 L170 425.6 L170 426.0 L172 426.5 L172 427.0 L174 427.6 L174 428.2 L176 428.8 L176 429.4 L178 429.9 L178 430.3 L180 430.7 L180 431.0 L182 431.1 L182 431.1 L184 431.0 L184 430.8 L186 430.5 L186 430.1 L188 429.6 L188 429.0 L190 428.4 L190 427.8 L192 427.2 L192 426.7 L194 426.2 L194 425.8 L196 425.4 L196 425.2 L198 425.2 L198 425.2 L200 425.3 L200 425.6 L202 426.0 L202 426.5 L204 427.0 L204 427.6 L206 428.2 L206 428.8 L208 429.4 L208 429.9 L210 430.3 L210 430.7 L212 431.0 L212 431.1 L214 431.1 L214 431.0 L216 430.8 L216 430.5 L218 430.1 L218 429.6 L220 429.0 L220 428.4 L222 427.8 L222 427.2 L224 426.7 L224 426.2 L226 425.8 L226 425.4 L228 425.2 L228 425.2 L230 425.2 L230 425.3 L232 425.6 L232 426.0 L234 426.5 L234 427.0 L236 427.6 L236 428.2" fill="none" stroke="#2535bd" stroke-width="1.5"/>
<path d="M62 438.4 L62 437.9 L64 437.4 L64 436.9 L66 436.3 L66 435.7 L68 435.1 L68 434.5 L70 434.0 L70 433.6 L72 433.3 L72 433.1 L74 433.0 L74 433.0 L76 433.2 L76 433.5 L78 433.8 L78 434.3 L80 434.8 L80 435.4 L82 436.0 L82 436.6 L84 437.2 L84 437.7 L86 438.2 L86 438.6 L88 438.8 L88 439.0 L90 439.0 L90 438.9 L92 438.7 L92 438.4 L94 437.9 L94 437.4 L96 436.9 L96 436.3 L98 435.7 L98 435.1 L100 434.5 L100 434.0 L102 433.6 L102 433.3 L104 433.1 L104 433.0 L106 433.0 L106 433.2 L108 433.5 L108 433.8 L110 434.3 L110 434.8 L112 435.4 L112 436.0 L114 436.6 L114 437.2 L116 437.7 L116 438.2 L118 438.6 L118 438.8 L120 439.0 L120 439.0 L122 438.9 L122 438.7 L124 438.4 L124 437.9 L126 437.4 L126 436.9 L128 436.3 L128 435.7 L130 435.1 L130 434.5 L132 434.0 L132 433.6 L134 433.3 L134 433.1 L136 433.0 L136 433.0 L138 433.2 L138 433.5 L140 433.8 L140 434.3 L142 434.8 L142 435.4 L144 436.0 L144 436.6 L146 437.2 L146 437.7 L148 438.2 L148 438.6 L150 438.8 L150 439.0 L152 439.0 L152 438.9 L154 438.7 L154 438.4 L156 437.9 L156 437.4 L158 436.9 L158 436.3 L160 435.7 L160 435.1 L162 434.5 L162 434.0 L164 433.6 L164 433.3 L166 433.1 L166 433.0 L168 433.0 L168 433.2 L170 433.5 L170 433.8 L172 434.3 L172 434.8 L174 435.4 L174 436.0 L176 436.6 L176 437.2 L178 437.7 L178 438.2 L180 438.6 L180 438.8 L182 439.0 L182 439.0 L184 438.9 L184 438.7 L186 438.4 L186 437.9 L188 437.4 L188 436.9 L190 436.3 L190 435.7 L192 435.1 L192 434.5 L194 434.0 L194 433.6 L196 433.3 L196 433.1 L198 433.0 L198 433.0 L200 433.2 L200 433.5 L202 433.8 L202 434.3 L204 434.8 L204 435.4 L206 436.0 L206 436.6 L208 437.2 L208 437.7 L210 438.2 L210 438.6 L212 438.8 L212 439.0 L214 439.0 L214 438.9 L216 438.7 L216 438.4 L218 437.9 L218 437.4 L220 436.9 L220 436.3 L222 435.7 L222 435.1 L224 434.5 L224 434.0 L226 433.6 L226 433.3 L228 433.1 L228 433.0 L230 433.0 L230 433.2 L232 433.5 L232 433.8 L234 434.3 L234 434.8 L236 435.4 L236 436.0" fill="none" stroke="#2535bd" stroke-width="1.5"/>
<path d="M62 446.2 L62 445.8 L64 445.3 L64 444.7 L66 444.1 L66 443.5 L68 442.9 L68 442.4 L70 441.9 L70 441.5 L72 441.1 L72 440.9 L74 440.9 L74 440.9 L76 441.0 L76 441.3 L78 441.7 L78 442.2 L80 442.7 L80 443.3 L82 443.9 L82 444.5 L84 445.1 L84 445.6 L86 446.0 L86 446.4 L88 446.7 L88 446.8 L90 446.8 L90 446.7 L92 446.5 L92 446.2 L94 445.8 L94 445.3 L96 444.7 L96 444.1 L98 443.5 L98 442.9 L100 442.4 L100 441.9 L102 441.5 L102 441.1 L104 440.9 L104 440.9 L106 440.9 L106 441.0 L108 441.3 L108 441.7 L110 442.2 L110 442.7 L112 443.3 L112 443.9 L114 444.5 L114 445.1 L116 445.6 L116 446.0 L118 446.4 L118 446.7 L120 446.8 L120 446.8 L122 446.7 L122 446.5 L124 446.2 L124 445.8 L126 445.3 L126 444.7 L128 444.1 L128 443.5 L130 442.9 L130 442.4 L132 441.9 L132 441.5 L134 441.1 L134 440.9 L136 440.9 L136 440.9 L138 441.0 L138 441.3 L140 441.7 L140 442.2 L142 442.7 L142 443.3 L144 443.9 L144 444.5 L146 445.1 L146 445.6 L148 446.0 L148 446.4 L150 446.7 L150 446.8 L152 446.8 L152 446.7 L154 446.5 L154 446.2 L156 445.8 L156 445.3 L158 444.7 L158 444.1 L160 443.5 L160 442.9 L162 442.4 L162 441.9 L164 441.5 L164 441.1 L166 440.9 L166 440.9 L168 440.9 L168 441.0 L170 441.3 L170 441.7 L172 442.2 L172 442.7 L174 443.3 L174 443.9 L176 444.5 L176 445.1 L178 445.6 L178 446.0 L180 446.4 L180 446.7 L182 446.8 L182 446.8 L184 446.7 L184 446.5 L186 446.2 L186 445.8 L188 445.3 L188 444.7 L190 444.1 L190 443.5 L192 442.9 L192 442.4 L194 441.9 L194 441.5 L196 441.1 L196 440.9 L198 440.9 L198 440.9 L200 441.0 L200 441.3 L202 441.7 L202 442.2 L204 442.7 L204 443.3 L206 443.9 L206 444.5 L208 445.1 L208 445.6 L210 446.0 L210 446.4 L212 446.7 L212 446.8 L214 446.8 L214 446.7 L216 446.5 L216 446.2 L218 445.8 L218 445.3 L220 444.7 L220 444.1 L222 443.5 L222 442.9 L224 442.4 L224 441.9 L226 441.5 L226 441.1 L228 440.9 L228 440.9 L230 440.9 L230 441.0 L232 441.3 L232 441.7 L234 442.2 L234 442.7 L236 443.3 L236 443.9" fill="none" stroke="#2535bd" stroke-width="1.5"/>
<path d="M62 454.1 L62 453.6 L64 453.1 L64 452.6 L66 452.0 L66 451.4 L68 450.8 L68 450.2 L70 449.7 L70 449.3 L72 449.0 L72 448.8 L74 448.7 L74 448.7 L76 448.9 L76 449.2 L78 449.5 L78 450.0 L80 450.5 L80 451.1 L82 451.7 L82 452.3 L84 452.9 L84 453.4 L86 453.9 L86 454.3 L88 454.5 L88 454.7 L90 454.7 L90 454.6 L92 454.4 L92 454.1 L94 453.6 L94 453.1 L96 452.6 L96 452.0 L98 451.4 L98 450.8 L100 450.2 L100 449.7 L102 449.3 L102 449.0 L104 448.8 L104 448.7 L106 448.7 L106 448.9 L108 449.2 L108 449.5 L110 450.0 L110 450.5 L112 451.1 L112 451.7 L114 452.3 L114 452.9 L116 453.4 L116 453.9 L118 454.3 L118 454.5 L120 454.7 L120 454.7 L122 454.6 L122 454.4 L124 454.1 L124 453.6 L126 453.1 L126 452.6 L128 452.0 L128 451.4 L130 450.8 L130 450.2 L132 449.7 L132 449.3 L134 449.0 L134 448.8 L136 448.7 L136 448.7 L138 448.9 L138 449.2 L140 449.5 L140 450.0 L142 450.5 L142 451.1 L144 451.7 L144 452.3 L146 452.9 L146 453.4 L148 453.9 L148 454.3 L150 454.5 L150 454.7 L152 454.7 L152 454.6 L154 454.4 L154 454.1 L156 453.6 L156 453.1 L158 452.6 L158 452.0 L160 451.4 L160 450.8 L162 450.2 L162 449.7 L164 449.3 L164 449.0 L166 448.8 L166 448.7 L168 448.7 L168 448.9 L170 449.2 L170 449.5 L172 450.0 L172 450.5 L174 451.1 L174 451.7 L176 452.3 L176 452.9 L178 453.4 L178 453.9 L180 454.3 L180 454.5 L182 454.7 L182 454.7 L184 454.6 L184 454.4 L186 454.1 L186 453.6 L188 453.1 L188 452.6 L190 452.0 L190 451.4 L192 450.8 L192 450.2 L194 449.7 L194 449.3 L196 449.0 L196 448.8 L198 448.7 L198 448.7 L200 448.9 L200 449.2 L202 449.5 L202 450.0 L204 450.5 L204 451.1 L206 451.7 L206 452.3 L208 452.9 L208 453.4 L210 453.9 L210 454.3 L212 454.5 L212 454.7 L214 454.7 L214 454.6 L216 454.4 L216 454.1 L218 453.6 L218 453.1 L220 452.6 L220 452.0 L222 451.4 L222 450.8 L224 450.2 L224 449.7 L226 449.3 L226 449.0 L228 448.8 L228 448.7 L230 448.7 L230 448.9 L232 449.2 L232 449.5 L234 450.0 L234 450.5 L236 451.1 L236 451.7" fill="none" stroke="#2535bd" stroke-width="1.5"/>
</svg>
<svg width="1024" height="724" viewBox="0 0 1024 724">
<path d="M342.5 247.5 L395.8 247.5 L395.8 256.6 L397.5 260 L396.5 264 L398.4 268 L398.4 282 L396.5 286 L397 290 L395.8 293 L393 299 L386 302.2 L342.5 302.2 Q338.5 302.2 338.5 298.2 L338.5 251.5 Q338.5 247.5 342.5 247.5 Z" fill="none" stroke="#333" stroke-width="0.9"/>
<rect x="352.3" y="250.4" width="8.8" height="48.7" fill="none" stroke="#333" stroke-width="0.7"/>
<rect x="352.6" y="251.4" width="3.3" height="46.6" fill="#222"/>
<line x1="350.3" y1="252.5" x2="352.6" y2="252.5" stroke="#333" stroke-width="0.5" />
<line x1="350.3" y1="255.3" x2="352.6" y2="255.3" stroke="#333" stroke-width="0.5" />
<line x1="350.3" y1="258.1" x2="352.6" y2="258.1" stroke="#333" stroke-width="0.5" />
<line x1="350.3" y1="260.9" x2="352.6" y2="260.9" stroke="#333" stroke-width="0.5" />
<line x1="350.3" y1="263.7" x2="352.6" y2="263.7" stroke="#333" stroke-width="0.5" />
<line x1="350.3" y1="266.5" x2="352.6" y2="266.5" stroke="#333" stroke-width="0.5" />
<line x1="350.3" y1="269.3" x2="352.6" y2="269.3" stroke="#333" stroke-width="0.5" />
<line x1="350.3" y1="272.1" x2="352.6" y2="272.1" stroke="#333" stroke-width="0.5" />
<line x1="350.3" y1="274.9" x2="352.6" y2="274.9" stroke="#333" stroke-width="0.5" />
<line x1="350.3" y1="277.7" x2="352.6" y2="277.7" stroke="#333" stroke-width="0.5" />
<line x1="350.3" y1="280.5" x2="352.6" y2="280.5" stroke="#333" stroke-width="0.5" />
<line x1="350.3" y1="283.3" x2="352.6" y2="283.3" stroke="#333" stroke-width="0.5" />
<line x1="350.3" y1="286.1" x2="352.6" y2="286.1" stroke="#333" stroke-width="0.5" />
<line x1="350.3" y1="288.9" x2="352.6" y2="288.9" stroke="#333" stroke-width="0.5" />
<line x1="350.3" y1="291.7" x2="352.6" y2="291.7" stroke="#333" stroke-width="0.5" />
<line x1="350.3" y1="294.5" x2="352.6" y2="294.5" stroke="#333" stroke-width="0.5" />
<line x1="350.3" y1="297.3" x2="352.6" y2="297.3" stroke="#333" stroke-width="0.5" />
<circle cx="347.1" cy="258.7" r="1.6" fill="none" stroke="#333" stroke-width="0.6"/>
<circle cx="347.1" cy="291.3" r="1.6" fill="none" stroke="#333" stroke-width="0.6"/>
<circle cx="374.6" cy="275.2" r="17.6" fill="none" stroke="#333" stroke-width="0.7"/>
<circle cx="374.6" cy="275.2" r="14.5" fill="none" stroke="#444" stroke-width="0.6"/>
<path d="M381 255 A21 21 0 0 1 381 295.4" fill="none" stroke="#333" stroke-width="0.7"/>
<line x1="362" y1="262" x2="384" y2="292" stroke="#333" stroke-width="0.6" />
<line x1="384" y1="258" x2="366" y2="290" stroke="#333" stroke-width="0.6" />
<line x1="366" y1="258" x2="388" y2="288" stroke="#333" stroke-width="0.6" />
<line x1="360" y1="268" x2="380" y2="294" stroke="#333" stroke-width="0.6" />
<line x1="372" y1="256" x2="392" y2="282" stroke="#333" stroke-width="0.6" />
<circle cx="368.3" cy="255.5" r="5.6" fill="#fff" stroke="#333" stroke-width="0.8"/>
<path d="M370.5 250.2 A5.6 5.6 0 0 1 370.5 260.8" fill="none" stroke="#111" stroke-width="1.6"/>
<line x1="329.7" y1="275.2" x2="406.7" y2="275.2" stroke="#333" stroke-width="0.6" />
<rect x="360" y="273.6" width="13.5" height="3.2" fill="#777" stroke="#333" stroke-width="0.5"/>
<circle cx="360" cy="275.2" r="4" fill="#fff" stroke="#333" stroke-width="0.8"/>
<circle cx="373.5" cy="275.2" r="3.6" fill="#fff" stroke="#333" stroke-width="0.8"/>
<line x1="361" y1="279" x2="355.5" y2="298.5" stroke="#333" stroke-width="0.9" />
<rect x="376.1" y="284" width="6.2" height="15.6" fill="#fff" stroke="#333" stroke-width="0.7"/>
<line x1="352.3" y1="302.2" x2="352.3" y2="329.4" stroke="#333" stroke-width="0.8" />
<line x1="359.9" y1="302.2" x2="359.9" y2="329.4" stroke="#333" stroke-width="0.8" />
<line x1="354.4" y1="304" x2="354.4" y2="329.4" stroke="#333" stroke-width="0.5" />
<path d="M371 302.2 L371 309 Q371 311.1 373 311.1 L381 311.1 Q383 311.1 383 309 L383 302.2" fill="none" stroke="#333" stroke-width="0.8"/>
<rect x="326.2" y="329.4" width="60.4" height="3.6" fill="#fff" stroke="#333" stroke-width="0.8"/>
<line x1="356.4" y1="333" x2="356.4" y2="348" stroke="#333" stroke-width="0.9" />
<path d="M344.8 354 Q344.8 349.6 356.4 348.4 Q367.9 349.6 367.9 354 L367.9 382.6 Q367.9 388.6 356.4 389.2 Q344.8 388.6 344.8 382.6 Z" fill="#fff" stroke="#333" stroke-width="0.8"/>
<line x1="300.3" y1="363.2" x2="338.5" y2="363.2" stroke="#555" stroke-width="0.8" />
<line x1="350.4" y1="363.2" x2="362.3" y2="363.2" stroke="#555" stroke-width="0.8" />
<line x1="373.4" y1="363.2" x2="412" y2="363.2" stroke="#555" stroke-width="0.8" />
<line x1="305.3" y1="369.4" x2="338.5" y2="369.4" stroke="#555" stroke-width="0.8" />
<line x1="350.4" y1="369.4" x2="362.3" y2="369.4" stroke="#555" stroke-width="0.8" />
<line x1="373.4" y1="369.4" x2="407.6" y2="369.4" stroke="#555" stroke-width="0.8" />
<line x1="310.3" y1="375.8" x2="338.5" y2="375.8" stroke="#555" stroke-width="0.8" />
<line x1="350.4" y1="375.8" x2="362.3" y2="375.8" stroke="#555" stroke-width="0.8" />
<line x1="373.4" y1="375.8" x2="402" y2="375.8" stroke="#555" stroke-width="0.8" />
<line x1="315.4" y1="382.3" x2="344.8" y2="382.3" stroke="#555" stroke-width="0.8" />
<line x1="352.8" y1="382.3" x2="359" y2="382.3" stroke="#555" stroke-width="0.8" />
<line x1="367.9" y1="382.3" x2="396.8" y2="382.3" stroke="#555" stroke-width="0.8" />
<line x1="320.2" y1="389.3" x2="346.4" y2="389.3" stroke="#555" stroke-width="0.8" />
<line x1="353.2" y1="389.3" x2="359" y2="389.3" stroke="#555" stroke-width="0.8" />
<line x1="364.7" y1="389.3" x2="391.7" y2="389.3" stroke="#555" stroke-width="0.8" />
<line x1="325.8" y1="395.3" x2="347.2" y2="395.3" stroke="#555" stroke-width="0.8" />
<line x1="353.2" y1="395.3" x2="359" y2="395.3" stroke="#555" stroke-width="0.8" />
<line x1="364.7" y1="395.3" x2="386.9" y2="395.3" stroke="#555" stroke-width="0.8" />
<line x1="331" y1="402.2" x2="347.2" y2="402.2" stroke="#555" stroke-width="0.8" />
<line x1="353.2" y1="402.2" x2="359" y2="402.2" stroke="#555" stroke-width="0.8" />
<line x1="364.7" y1="402.2" x2="381.8" y2="402.2" stroke="#555" stroke-width="0.8" />
<line x1="336.1" y1="408.9" x2="375.8" y2="408.9" stroke="#555" stroke-width="0.8" />
<path d="M291 238.6 L338 238.6 L351.3 251.5" fill="none" stroke="#333" stroke-width="0.6"/>
<path d="M383.7 230 L359.6 254" fill="none" stroke="#333" stroke-width="0.6"/>
<path d="M383.7 240.3 Q376 242 372.9 249.9" fill="none" stroke="#333" stroke-width="0.6"/>
<path d="M403.6 253.6 L392 253.6 L379.5 260.7" fill="none" stroke="#333" stroke-width="0.6"/>
<path d="M403.6 265.3 L392 265.3 L381.2 273" fill="none" stroke="#333" stroke-width="0.6"/>
<path d="M405.8 289.5 Q400 287 396.1 278" fill="none" stroke="#333" stroke-width="0.6"/>
<path d="M397 303.3 L392 303.3 L381.2 294.7" fill="none" stroke="#333" stroke-width="0.6"/>
<path d="M273 258.3 L333 258.3 L351.3 264" fill="none" stroke="#333" stroke-width="0.6"/>
<path d="M289 269.8 L331.4 269.8 L351.3 274.6" fill="none" stroke="#333" stroke-width="0.6"/>
<path d="M280.8 286.3 L325.6 286.3 L346.3 291.4" fill="none" stroke="#333" stroke-width="0.6"/>
<path d="M356.4 342.6 L381.4 342.6" fill="none" stroke="#333" stroke-width="0.6"/>
<path d="M390.9 354.5 L386.1 354.5 L366.3 360.4" fill="none" stroke="#333" stroke-width="0.6"/>
<rect x="284.3" y="448.2" width="23.4" height="11.4" fill="none" stroke="#cf3a48" stroke-width="0.9"/>
<rect x="317.1" y="448.2" width="10" height="11.4" fill="none" stroke="#cf3a48" stroke-width="0.9"/>
<rect x="333.9" y="448.2" width="9.9" height="11.4" fill="none" stroke="#cf3a48" stroke-width="0.9"/>
<rect x="311" y="453.6" width="3.3" height="1" fill="#cf3a48"/>
<rect x="328.6" y="453.6" width="2.6" height="1" fill="#cf3a48"/>
<path d="M297.5 459.6 L297.5 568" fill="none" stroke="#c94050" stroke-width="0.9"/>
<path d="M322.2 459.6 L322.2 536.6 L364.2 536.6" fill="none" stroke="#d47880" stroke-width="0.9"/>
<path d="M339.1 459.6 L339.1 488.2 L364.2 488.2" fill="none" stroke="#d06070" stroke-width="0.9"/>
</svg>
<div class="t" style="left:291.20px;top:232.92px;font-size:5.8px;line-height:7.54px;font-weight:normal;color:#333;transform:scaleX(0.941);">POINTER PULLEY</div>
<div class="t" style="left:383.70px;top:225.12px;font-size:5.8px;line-height:7.54px;font-weight:normal;color:#333;transform:scaleX(0.950);">TRANSMITTER</div>
<div class="t" style="left:383.70px;top:235.42px;font-size:5.8px;line-height:7.54px;font-weight:normal;color:#333;transform:scaleX(0.937);">TENSIONER</div>
<div class="t" style="left:403.60px;top:249.22px;font-size:5.8px;line-height:7.54px;font-weight:normal;color:#333;transform:scaleX(0.972);">MAIN PULLEY</div>
<div class="t" style="left:403.60px;top:260.82px;font-size:5.8px;line-height:7.54px;font-weight:normal;color:#333;transform:scaleX(0.934);">MAIN SHAFT</div>
<div class="t" style="left:405.80px;top:284.82px;font-size:5.8px;line-height:7.54px;font-weight:normal;color:#333;transform:scaleX(0.917);">DRUM</div>
<div class="t" style="left:397.00px;top:298.52px;font-size:5.8px;line-height:7.54px;font-weight:normal;color:#333;transform:scaleX(0.920);">CONVERTER</div>
<div class="t" style="left:273.00px;top:253.02px;font-size:5.8px;line-height:7.54px;font-weight:normal;color:#333;transform:scaleX(0.965);">LEVLE POINTER WIRE</div>
<div class="t" style="left:289.00px;top:264.62px;font-size:5.8px;line-height:7.54px;font-weight:normal;color:#333;transform:scaleX(0.937);">LEVLE POINTER</div>
<div class="t" style="left:280.80px;top:281.02px;font-size:5.8px;line-height:7.54px;font-weight:normal;color:#333;transform:scaleX(0.950);">ALARM POINTER</div>
<div class="t" style="left:381.40px;top:339.42px;font-size:5.8px;line-height:7.54px;font-weight:normal;color:#333;transform:scaleX(0.971);">FLOAT WIRE</div>
<div class="t" style="left:390.90px;top:350.82px;font-size:5.8px;line-height:7.54px;font-weight:normal;color:#333;transform:scaleX(0.893);">FLOAT</div>
<div class="t" style="left:287.13px;top:446.24px;font-size:12.8px;line-height:16.64px;font-weight:normal;color:#cf3a48;transform:scaleX(0.869);">FL</div>
<svg width="1024" height="724" viewBox="0 0 1024 724">
<line x1="651.3" y1="181.3" x2="667.6" y2="181.3" stroke="#666" stroke-width="0.5"/>
<line x1="651.3" y1="179.0" x2="651.3" y2="187.0" stroke="#666" stroke-width="0.5"/>
<line x1="667.6" y1="179.0" x2="667.6" y2="187.0" stroke="#666" stroke-width="0.5"/>
<text x="656.0" y="180.1" font-size="3.6" textLength="7.0" lengthAdjust="spacingAndGlyphs" fill="#555" font-family="Liberation Sans">PAC</text>
<rect x="651.0" y="186.6" width="16.6" height="19.6" rx="0" fill="none" stroke="#333" stroke-width="0.7"/>
<rect x="652.2" y="188.0" width="6.5" height="17.0" rx="0" fill="none" stroke="#444" stroke-width="0.6"/>
<rect x="653.8" y="189.5" width="2.6" height="14.0" rx="0" fill="#999" stroke="#555" stroke-width="0.4"/>
<rect x="660.3" y="196.0" width="5.5" height="5.0" rx="0" fill="#222" stroke="#111" stroke-width="0.4"/>
<text x="660.5" y="192.2" font-size="3.6" textLength="5.0" lengthAdjust="spacingAndGlyphs" fill="#555" font-family="Liberation Sans">KI</text>
<line x1="643.7" y1="186.6" x2="643.7" y2="211.2" stroke="#666" stroke-width="0.5"/>
<line x1="641.0" y1="186.6" x2="651.0" y2="186.6" stroke="#666" stroke-width="0.5"/>
<line x1="641.0" y1="211.2" x2="649.0" y2="211.2" stroke="#666" stroke-width="0.5"/>
<line x1="634.4" y1="196.2" x2="634.4" y2="218.1" stroke="#666" stroke-width="0.5"/>
<line x1="631.0" y1="196.2" x2="651.0" y2="196.2" stroke="#666" stroke-width="0.5"/>
<text transform="translate(633.8 210.0) rotate(-90)" x="0" y="0" font-size="3.6" textLength="6.0" lengthAdjust="spacingAndGlyphs" fill="#555" font-family="Liberation Sans">NG</text>
<text transform="translate(643.0 195.0) rotate(-90)" x="0" y="0" font-size="3.6" textLength="5.0" lengthAdjust="spacingAndGlyphs" fill="#555" font-family="Liberation Sans">(Y</text>
<text transform="translate(643.0 205.0) rotate(-90)" x="0" y="0" font-size="3.6" textLength="5.0" lengthAdjust="spacingAndGlyphs" fill="#555" font-family="Liberation Sans">AR</text>
<line x1="668.5" y1="189.0" x2="668.5" y2="218.1" stroke="#666" stroke-width="0.5"/>
<line x1="671.7" y1="211.2" x2="671.7" y2="251.5" stroke="#666" stroke-width="0.5"/>
<line x1="667.0" y1="189.0" x2="671.0" y2="189.0" stroke="#666" stroke-width="0.5"/>
<line x1="657.0" y1="211.2" x2="674.0" y2="211.2" stroke="#666" stroke-width="0.5"/>
<text transform="translate(671.3 198.0) rotate(-90)" x="0" y="0" font-size="3.6" textLength="6.0" lengthAdjust="spacingAndGlyphs" fill="#555" font-family="Liberation Sans">D S</text>
<path d="M648.8 211.2 L657.9 211.2" fill="none" stroke="#444" stroke-width="1.6"/>
<circle cx="649.6" cy="211.2" r="1.6" fill="#bbb" stroke="#444" stroke-width="0.6"/>
<circle cx="657.2" cy="211.2" r="1.6" fill="#bbb" stroke="#444" stroke-width="0.6"/>
<line x1="591.2" y1="218.1" x2="683.7" y2="218.1" stroke="#555" stroke-width="0.6" stroke-dasharray="4 1 1 1"/>
<text x="600.0" y="216.7" font-size="3.6" textLength="13.0" lengthAdjust="spacingAndGlyphs" fill="#555" font-family="Liberation Sans">UPPLY)</text>
<line x1="651.6" y1="206.2" x2="651.6" y2="251.5" stroke="#333" stroke-width="0.6"/>
<line x1="655.7" y1="206.2" x2="655.7" y2="251.5" stroke="#333" stroke-width="0.6"/>
<line x1="653.6" y1="206.0" x2="653.6" y2="345.0" stroke="#888" stroke-width="0.4" stroke-dasharray="4 1 1 1"/>
<rect x="648.2" y="228.5" width="3.4" height="4.0" rx="0" fill="none" stroke="#333" stroke-width="0.5"/>
<line x1="655.7" y1="230.5" x2="665.1" y2="230.5" stroke="#333" stroke-width="0.6"/>
<rect x="664.6" y="223.9" width="1.4" height="12.4" rx="0" fill="#ddd" stroke="#333" stroke-width="0.5"/>
<text transform="translate(652.0 232.0) rotate(-90)" x="0" y="0" font-size="3.6" textLength="4.0" lengthAdjust="spacingAndGlyphs" fill="#555" font-family="Liberation Sans">B</text>
<line x1="668.5" y1="223.9" x2="668.5" y2="236.3" stroke="#666" stroke-width="0.5"/>
<text transform="translate(671.3 231.0) rotate(-90)" x="0" y="0" font-size="3.6" textLength="5.0" lengthAdjust="spacingAndGlyphs" fill="#555" font-family="Liberation Sans">OL</text>
<line x1="616.1" y1="218.1" x2="616.1" y2="350.2" stroke="#666" stroke-width="0.5"/>
<text transform="translate(616.6 236.0) rotate(-90)" x="0" y="0" font-size="3.6" textLength="4.0" lengthAdjust="spacingAndGlyphs" fill="#555" font-family="Liberation Sans">T,</text>
<text x="669.2" y="241.1" font-size="3.6" textLength="27.5" lengthAdjust="spacingAndGlyphs" fill="#555" font-family="Liberation Sans">NUT,S/W FLOOR</text>
<text x="670.5" y="244.0" font-size="3.6" textLength="22.0" lengthAdjust="spacingAndGlyphs" fill="#555" font-family="Liberation Sans">(GR) TANK</text>
<path d="M669.2 240.5 L666 240.5 L659.6 251.5" fill="none" stroke="#666" stroke-width="0.5"/>
<line x1="622.3" y1="251.5" x2="673.4" y2="251.5" stroke="#666" stroke-width="0.5"/>
<circle cx="647.0" cy="252.0" r="1.9" fill="#bbb" stroke="#444" stroke-width="0.6"/>
<circle cx="659.6" cy="252.0" r="1.9" fill="#bbb" stroke="#444" stroke-width="0.6"/>
<line x1="645.0" y1="253.5" x2="662.0" y2="253.5" stroke="#555" stroke-width="1.2"/>
<line x1="622.3" y1="251.5" x2="622.3" y2="350.2" stroke="#666" stroke-width="0.5"/>
<line x1="627.5" y1="251.5" x2="627.5" y2="340.0" stroke="#666" stroke-width="0.5"/>
<text transform="translate(630.3 258.0) rotate(-90)" x="0" y="0" font-size="3.6" textLength="4.0" lengthAdjust="spacingAndGlyphs" fill="#555" font-family="Liberation Sans">TO</text>
<line x1="638.0" y1="244.0" x2="638.0" y2="262.0" stroke="#666" stroke-width="0.5"/>
<text transform="translate(640.6 261.0) rotate(-90)" x="0" y="0" font-size="3.6" textLength="5.0" lengthAdjust="spacingAndGlyphs" fill="#555" font-family="Liberation Sans">P</text>
<line x1="591.0" y1="264.9" x2="634.4" y2="264.9" stroke="#555" stroke-width="0.6" stroke-dasharray="4 1 1 1"/>
<text x="601.8" y="263.7" font-size="3.6" textLength="10.0" lengthAdjust="spacingAndGlyphs" fill="#555" font-family="Liberation Sans">SMA 3</text>
<path d="M634.4 264.9 L634.4 282.2 L648 282.2 M657.9 282.2 L702.7 282.2 L702.7 341.1 L677.9 341.1 L677.9 350.2" fill="none" stroke="#666" stroke-width="0.4" stroke-dasharray="2.5 0.8"/>
<path d="M635.6999999999999 264.9 L635.6999999999999 283.5 L648 283.5 M657.9 283.5 L701.4000000000001 283.5 L701.4000000000001 339.8 L676.6 339.8 L676.6 350.2" fill="none" stroke="#666" stroke-width="0.4" stroke-dasharray="2.5 0.8"/>
<line x1="648.8" y1="251.5" x2="648.8" y2="340.4" stroke="#333" stroke-width="0.6"/>
<line x1="657.9" y1="251.5" x2="657.9" y2="340.4" stroke="#333" stroke-width="0.6"/>
<rect x="648.8" y="324.0" width="9.1" height="16.4" rx="0" fill="none" stroke="#333" stroke-width="0.5"/>
<line x1="648.8" y1="330.0" x2="657.9" y2="330.0" stroke="#666" stroke-width="0.4"/>
<line x1="651.0" y1="326.0" x2="651.0" y2="340.0" stroke="#666" stroke-width="0.5"/>
<line x1="655.6" y1="326.0" x2="655.6" y2="340.0" stroke="#666" stroke-width="0.5"/>
<text x="656.0" y="324.2" font-size="3.6" textLength="5.0" lengthAdjust="spacingAndGlyphs" fill="#555" font-family="Liberation Sans">04</text>
<line x1="622.2" y1="332.0" x2="648.8" y2="332.0" stroke="#666" stroke-width="0.5"/>
<line x1="627.5" y1="340.0" x2="648.0" y2="340.0" stroke="#666" stroke-width="0.5"/>
<line x1="657.9" y1="290.0" x2="662.0" y2="290.0" stroke="#666" stroke-width="0.5"/>
<line x1="662.0" y1="282.2" x2="662.0" y2="290.0" stroke="#666" stroke-width="0.5"/>
<text transform="translate(664.3 288.0) rotate(-90)" x="0" y="0" font-size="3.6" textLength="5.0" lengthAdjust="spacingAndGlyphs" fill="#555" font-family="Liberation Sans">1</text>
<path d="M646 289 L640 295 L635 295" fill="none" stroke="#666" stroke-width="0.5"/>
<text x="634.0" y="296.7" font-size="3.6" textLength="6.0" lengthAdjust="spacingAndGlyphs" fill="#555" font-family="Liberation Sans">14.</text>
<line x1="648.8" y1="303.5" x2="662.0" y2="303.5" stroke="#666" stroke-width="0.5"/>
<text x="662.5" y="303.7" font-size="3.6" textLength="21.0" lengthAdjust="spacingAndGlyphs" fill="#555" font-family="Liberation Sans">3x4.5t 2-O</text>
<text x="663.0" y="307.2" font-size="3.6" textLength="18.0" lengthAdjust="spacingAndGlyphs" fill="#555" font-family="Liberation Sans">25 O76.3</text>
<text transform="translate(614.6 321.0) rotate(-90)" x="0" y="0" font-size="3.6" textLength="28.0" lengthAdjust="spacingAndGlyphs" fill="#555" font-family="Liberation Sans">LOWEST TANK BO</text>
<text transform="translate(621.1 318.0) rotate(-90)" x="0" y="0" font-size="3.6" textLength="22.0" lengthAdjust="spacingAndGlyphs" fill="#555" font-family="Liberation Sans">TTOM TANK I</text>
<text x="658.5" y="325.2" font-size="3.6" textLength="6.0" lengthAdjust="spacingAndGlyphs" fill="#555" font-family="Liberation Sans">NSI</text>
<line x1="591.0" y1="349.5" x2="677.9" y2="349.5" stroke="#555" stroke-width="0.6" stroke-dasharray="4 1 1 1"/>
<text x="590.0" y="348.2" font-size="3.6" textLength="14.0" lengthAdjust="spacingAndGlyphs" fill="#555" font-family="Liberation Sans">DE HEIG</text>
<line x1="585.0" y1="343.0" x2="616.0" y2="343.0" stroke="#666" stroke-width="0.4"/>
<line x1="616.0" y1="332.0" x2="616.0" y2="350.0" stroke="#666" stroke-width="0.5"/>
<text transform="translate(614.8 340.0) rotate(-90)" x="0" y="0" font-size="3.6" textLength="6.0" lengthAdjust="spacingAndGlyphs" fill="#555" font-family="Liberation Sans">HT</text>
<text transform="translate(621.3 340.0) rotate(-90)" x="0" y="0" font-size="3.6" textLength="6.0" lengthAdjust="spacingAndGlyphs" fill="#555" font-family="Liberation Sans">H M</text>
<rect x="672.5" y="394.0" width="15.9" height="17.1" rx="0" fill="none" stroke="#333" stroke-width="0.7"/>
<rect x="673.6" y="395.2" width="5.0" height="14.8" rx="0" fill="none" stroke="#444" stroke-width="0.5"/>
<rect x="674.8" y="396.5" width="2.2" height="12.0" rx="0" fill="#999" stroke="#555" stroke-width="0.3"/>
<rect x="682.0" y="400.5" width="5.0" height="5.0" rx="0" fill="#222" stroke="#111" stroke-width="0.4"/>
<text x="682.0" y="398.6" font-size="3.6" textLength="4.0" lengthAdjust="spacingAndGlyphs" fill="#555" font-family="Liberation Sans">EA</text>
<text x="691.5" y="386.2" font-size="3.6" textLength="17.0" lengthAdjust="spacingAndGlyphs" fill="#555" font-family="Liberation Sans">SURING H</text>
<text x="692.0" y="389.2" font-size="3.6" textLength="14.0" lengthAdjust="spacingAndGlyphs" fill="#555" font-family="Liberation Sans">EIGHT M</text>
<text x="695.0" y="395.2" font-size="3.6" textLength="11.0" lengthAdjust="spacingAndGlyphs" fill="#555" font-family="Liberation Sans">SUPP</text>
<path d="M691.5 386 L689 386 L688 395" fill="none" stroke="#666" stroke-width="0.5"/>
<path d="M695 394 L688.4 398" fill="none" stroke="#666" stroke-width="0.5"/>
<line x1="668.7" y1="402.0" x2="672.5" y2="402.0" stroke="#666" stroke-width="0.5"/>
<line x1="668.7" y1="402.0" x2="668.7" y2="411.0" stroke="#666" stroke-width="0.5"/>
<text transform="translate(668.3 408.5) rotate(-90)" x="0" y="0" font-size="3.6" textLength="5.0" lengthAdjust="spacingAndGlyphs" fill="#555" font-family="Liberation Sans">OR</text>
<line x1="688.4" y1="402.0" x2="700.4" y2="402.0" stroke="#666" stroke-width="0.5"/>
<line x1="700.4" y1="402.0" x2="700.4" y2="438.1" stroke="#666" stroke-width="0.5"/>
<text transform="translate(703.3 422.0) rotate(-90)" x="0" y="0" font-size="3.6" textLength="12.0" lengthAdjust="spacingAndGlyphs" fill="#555" font-family="Liberation Sans">T 2X0</text>
<line x1="673.2" y1="411.1" x2="673.2" y2="436.0" stroke="#333" stroke-width="0.7"/>
<line x1="676.3" y1="411.1" x2="676.3" y2="436.0" stroke="#333" stroke-width="0.7"/>
<circle cx="674.8" cy="417.0" r="1.7" fill="#bbb" stroke="#444" stroke-width="0.5"/>
<rect x="672.0" y="419.0" width="6.0" height="4.0" rx="0" fill="none" stroke="#333" stroke-width="0.5"/>
<line x1="678.0" y1="416.0" x2="686.0" y2="416.0" stroke="#666" stroke-width="0.5"/>
<line x1="678.0" y1="421.0" x2="686.0" y2="421.0" stroke="#666" stroke-width="0.5"/>
<line x1="685.0" y1="411.0" x2="685.0" y2="423.0" stroke="#666" stroke-width="0.5"/>
<rect x="627.5" y="423.2" width="81.8" height="2.2" rx="0" fill="#f4f4f4" stroke="#333" stroke-width="0.6"/>
<line x1="616.7" y1="423.2" x2="627.5" y2="423.2" stroke="#666" stroke-width="0.5"/>
<rect x="656.0" y="425.4" width="5.1" height="18.1" rx="0" fill="#fff" stroke="#333" stroke-width="0.5"/>
<line x1="658.5" y1="425.4" x2="658.5" y2="443.5" stroke="#888" stroke-width="0.4"/>
<line x1="627.0" y1="437.2" x2="673.8" y2="437.2" stroke="#333" stroke-width="0.6"/>
<line x1="627.0" y1="439.2" x2="673.8" y2="439.2" stroke="#333" stroke-width="0.6"/>
<line x1="627.0" y1="438.2" x2="673.8" y2="438.2" stroke="#999" stroke-width="0.4" stroke-dasharray="4 1 1 1"/>
<path d="M625.5 436 Q625.5 434.5 627.5 434.5 L631 434.5 M621.8 438 L621.8 443 M631 436 L631 440.5" fill="none" stroke="#333" stroke-width="0.6"/>
<circle cx="624.4" cy="437.5" r="2.6" fill="none" stroke="#333" stroke-width="0.6"/>
<circle cx="672.5" cy="436.5" r="2.6" fill="none" stroke="#333" stroke-width="0.6"/>
<line x1="616.7" y1="438.1" x2="625.0" y2="438.1" stroke="#666" stroke-width="0.5"/>
<line x1="616.7" y1="423.2" x2="616.7" y2="515.0" stroke="#666" stroke-width="0.5"/>
<text transform="translate(619.6 434.0) rotate(-90)" x="0" y="0" font-size="3.6" textLength="6.0" lengthAdjust="spacingAndGlyphs" fill="#555" font-family="Liberation Sans">L30</text>
<line x1="678.0" y1="429.0" x2="681.0" y2="429.0" stroke="#666" stroke-width="0.5"/>
<line x1="681.0" y1="429.0" x2="681.0" y2="438.0" stroke="#666" stroke-width="0.5"/>
<text transform="translate(683.3 436.0) rotate(-90)" x="0" y="0" font-size="3.6" textLength="6.0" lengthAdjust="spacingAndGlyphs" fill="#555" font-family="Liberation Sans">0 G</text>
<line x1="700.4" y1="438.1" x2="690.0" y2="438.1" stroke="#666" stroke-width="0.5"/>
<line x1="627.5" y1="448.6" x2="674.0" y2="448.6" stroke="#666" stroke-width="0.5"/>
<line x1="674.0" y1="436.0" x2="674.0" y2="449.0" stroke="#666" stroke-width="0.5"/>
<line x1="627.5" y1="441.0" x2="627.5" y2="449.0" stroke="#666" stroke-width="0.5"/>
<text x="644.0" y="447.4" font-size="3.6" textLength="11.0" lengthAdjust="spacingAndGlyphs" fill="#555" font-family="Liberation Sans">UIDE</text>
<path d="M661 441 L666 455 L668 455" fill="none" stroke="#666" stroke-width="0.5"/>
<text x="666.0" y="454.4" font-size="3.6" textLength="12.0" lengthAdjust="spacingAndGlyphs" fill="#555" font-family="Liberation Sans">PIPE 2</text>
<text x="666.0" y="457.4" font-size="3.6" textLength="14.0" lengthAdjust="spacingAndGlyphs" fill="#555" font-family="Liberation Sans">-M8x20L</text>
<line x1="625.6" y1="441.0" x2="625.6" y2="479.3" stroke="#333" stroke-width="0.6"/>
<line x1="627.8" y1="441.0" x2="627.8" y2="479.3" stroke="#333" stroke-width="0.6"/>
<line x1="626.7" y1="441.0" x2="626.7" y2="479.0" stroke="#aaa" stroke-width="0.3"/>
<text transform="translate(617.6 459.0) rotate(-90)" x="0" y="0" font-size="3.6" textLength="14.0" lengthAdjust="spacingAndGlyphs" fill="#555" font-family="Liberation Sans">184.0</text>
<text x="592.0" y="470.2" font-size="3.6" textLength="14.0" lengthAdjust="spacingAndGlyphs" fill="#555" font-family="Liberation Sans">220 156</text>
<text x="585.0" y="473.7" font-size="3.6" textLength="21.0" lengthAdjust="spacingAndGlyphs" fill="#555" font-family="Liberation Sans">.9 28.4 SI</text>
<path d="M606 469.5 L611 469.5 L619 478" fill="none" stroke="#666" stroke-width="0.5"/>
<line x1="619.0" y1="479.3" x2="634.0" y2="479.3" stroke="#555" stroke-width="1.4"/>
<circle cx="619.5" cy="479.3" r="1.6" fill="#bbb" stroke="#444" stroke-width="0.5"/>
<circle cx="633.5" cy="479.3" r="1.6" fill="#bbb" stroke="#444" stroke-width="0.5"/>
<line x1="609.0" y1="478.0" x2="609.0" y2="489.0" stroke="#666" stroke-width="0.5"/>
<text transform="translate(611.6 486.0) rotate(-90)" x="0" y="0" font-size="3.6" textLength="5.0" lengthAdjust="spacingAndGlyphs" fill="#555" font-family="Liberation Sans">LI</text>
<line x1="586.0" y1="490.4" x2="667.6" y2="490.4" stroke="#333" stroke-width="0.6"/>
<line x1="586.0" y1="492.5" x2="667.6" y2="492.5" stroke="#555" stroke-width="0.5"/>
<line x1="666.2" y1="490.4" x2="666.2" y2="538.7" stroke="#333" stroke-width="0.5"/>
<line x1="667.6" y1="490.4" x2="667.6" y2="538.7" stroke="#333" stroke-width="0.5"/>
<path d="M667.6 538.7 L637.9 550.5 L586.7 550.5" fill="none" stroke="#333" stroke-width="0.6"/>
<line x1="586.7" y1="553.0" x2="637.9" y2="553.0" stroke="#555" stroke-width="0.5"/>
<line x1="588.8" y1="492.5" x2="664.8" y2="536.7" stroke="#666" stroke-width="0.4"/>
<line x1="664.8" y1="492.5" x2="588.8" y2="549.8" stroke="#666" stroke-width="0.4"/>
<line x1="622.7" y1="479.3" x2="622.7" y2="547.0" stroke="#333" stroke-width="0.6"/>
<line x1="631.4" y1="479.3" x2="631.4" y2="547.0" stroke="#333" stroke-width="0.6"/>
<line x1="627.0" y1="481.0" x2="627.0" y2="545.0" stroke="#999" stroke-width="0.3" stroke-dasharray="4 1 1 1"/>
<rect x="622.7" y="533.2" width="8.7" height="13.8" rx="0" fill="none" stroke="#333" stroke-width="0.5"/>
<line x1="624.5" y1="535.0" x2="624.5" y2="547.0" stroke="#666" stroke-width="0.4"/>
<line x1="629.5" y1="535.0" x2="629.5" y2="547.0" stroke="#666" stroke-width="0.4"/>
<rect x="633.0" y="531.5" width="8.0" height="1.0" rx="0" fill="#999" stroke="#888" stroke-width="0.3"/>
<line x1="593.0" y1="492.5" x2="593.0" y2="549.0" stroke="#666" stroke-width="0.5"/>
<line x1="599.2" y1="479.3" x2="599.2" y2="549.0" stroke="#666" stroke-width="0.5"/>
<line x1="606.0" y1="479.3" x2="606.0" y2="549.0" stroke="#666" stroke-width="0.5"/>
<line x1="588.0" y1="479.3" x2="622.0" y2="479.3" stroke="#666" stroke-width="0.5"/>
<line x1="606.0" y1="538.8" x2="622.0" y2="538.8" stroke="#666" stroke-width="0.5"/>
<line x1="599.0" y1="549.0" x2="637.0" y2="549.0" stroke="#666" stroke-width="0.5"/>
<text transform="translate(593.5 534.0) rotate(-90)" x="0" y="0" font-size="3.6" textLength="26.0" lengthAdjust="spacingAndGlyphs" fill="#555" font-family="Liberation Sans">CONE OIL FILT</text>
<text transform="translate(606.5 525.0) rotate(-90)" x="0" y="0" font-size="3.6" textLength="20.0" lengthAdjust="spacingAndGlyphs" fill="#555" font-family="Liberation Sans">ER DEAD-ZO</text>
<text transform="translate(609.1 490.0) rotate(-90)" x="0" y="0" font-size="3.6" textLength="5.0" lengthAdjust="spacingAndGlyphs" fill="#555" font-family="Liberation Sans">G</text>
<text transform="translate(593.5 545.0) rotate(-90)" x="0" y="0" font-size="3.6" textLength="7.0" lengthAdjust="spacingAndGlyphs" fill="#555" font-family="Liberation Sans">(YA</text>
<text transform="translate(606.5 547.0) rotate(-90)" x="0" y="0" font-size="3.6" textLength="7.0" lengthAdjust="spacingAndGlyphs" fill="#555" font-family="Liberation Sans">RD</text>
<line x1="631.4" y1="498.0" x2="640.0" y2="498.0" stroke="#666" stroke-width="0.5"/>
<text x="636.5" y="496.7" font-size="3.6" textLength="18.0" lengthAdjust="spacingAndGlyphs" fill="#555" font-family="Liberation Sans">SUPPLY) B</text>
<text x="638.0" y="500.2" font-size="3.6" textLength="12.0" lengthAdjust="spacingAndGlyphs" fill="#555" font-family="Liberation Sans">OLT,NU</text>
<path d="M619 496 L615 501 L610 501" fill="none" stroke="#666" stroke-width="0.5"/>
<text x="610.0" y="502.4" font-size="3.6" textLength="6.0" lengthAdjust="spacingAndGlyphs" fill="#555" font-family="Liberation Sans">T,S</text>
<line x1="631.4" y1="530.5" x2="639.0" y2="530.5" stroke="#666" stroke-width="0.5"/>
<text x="631.8" y="531.7" font-size="3.6" textLength="7.0" lengthAdjust="spacingAndGlyphs" fill="#555" font-family="Liberation Sans">/W</text>
<line x1="637.6" y1="535.0" x2="637.6" y2="550.0" stroke="#666" stroke-width="0.5"/>
<text transform="translate(640.1 544.0) rotate(-90)" x="0" y="0" font-size="3.6" textLength="6.0" lengthAdjust="spacingAndGlyphs" fill="#555" font-family="Liberation Sans">FLO</text>
<line x1="637.0" y1="551.0" x2="637.0" y2="556.0" stroke="#666" stroke-width="0.5"/>
<text transform="translate(637.8 557.0) rotate(-90)" x="0" y="0" font-size="3.6" textLength="4.0" lengthAdjust="spacingAndGlyphs" fill="#555" font-family="Liberation Sans">OR</text>
<line x1="816.8" y1="228.9" x2="896.8" y2="228.9" stroke="#666" stroke-width="0.5"/>
<line x1="816.8" y1="226.0" x2="816.8" y2="240.0" stroke="#666" stroke-width="0.5"/>
<line x1="896.8" y1="226.0" x2="896.8" y2="250.0" stroke="#666" stroke-width="0.5"/>
<text x="852.0" y="227.3" font-size="3.6" textLength="6.0" lengthAdjust="spacingAndGlyphs" fill="#555" font-family="Liberation Sans">(G</text>
<line x1="816.8" y1="237.8" x2="836.6" y2="237.8" stroke="#666" stroke-width="0.5"/>
<line x1="836.6" y1="234.0" x2="836.6" y2="246.0" stroke="#666" stroke-width="0.5"/>
<text x="821.0" y="236.7" font-size="3.6" textLength="9.0" lengthAdjust="spacingAndGlyphs" fill="#555" font-family="Liberation Sans">R) T</text>
<line x1="816.8" y1="244.1" x2="836.6" y2="244.1" stroke="#666" stroke-width="0.5"/>
<line x1="826.7" y1="241.0" x2="826.7" y2="247.0" stroke="#666" stroke-width="0.5"/>
<text x="818.0" y="243.2" font-size="3.6" textLength="7.0" lengthAdjust="spacingAndGlyphs" fill="#555" font-family="Liberation Sans">ANK</text>
<text x="828.0" y="243.2" font-size="3.6" textLength="7.0" lengthAdjust="spacingAndGlyphs" fill="#555" font-family="Liberation Sans">TO</text>
<line x1="788.0" y1="248.6" x2="835.7" y2="248.6" stroke="#555" stroke-width="0.5"/>
<line x1="896.0" y1="250.4" x2="930.0" y2="250.4" stroke="#555" stroke-width="0.5"/>
<line x1="866.0" y1="241.0" x2="887.0" y2="241.0" stroke="#666" stroke-width="0.5"/>
<line x1="870.5" y1="238.0" x2="870.5" y2="244.0" stroke="#666" stroke-width="0.5"/>
<line x1="880.0" y1="238.0" x2="880.0" y2="244.0" stroke="#666" stroke-width="0.5"/>
<text x="871.0" y="239.2" font-size="3.6" textLength="9.0" lengthAdjust="spacingAndGlyphs" fill="#555" font-family="Liberation Sans">P SM</text>
<circle cx="821.7" cy="258.5" r="7.2" fill="#fff" stroke="#333" stroke-width="0.7"/>
<line x1="821.7" y1="250.0" x2="821.7" y2="267.0" stroke="#888" stroke-width="0.3" stroke-dasharray="4 1 1 1"/>
<line x1="813.0" y1="258.5" x2="830.0" y2="258.5" stroke="#888" stroke-width="0.3" stroke-dasharray="4 1 1 1"/>
<rect x="815.0" y="265.0" width="5.0" height="6.0" rx="0" fill="none" stroke="#333" stroke-width="0.5"/>
<rect x="823.5" y="265.0" width="5.0" height="6.0" rx="0" fill="none" stroke="#333" stroke-width="0.5"/>
<line x1="815.9" y1="271.0" x2="815.9" y2="495.0" stroke="#333" stroke-width="0.6"/>
<line x1="818.6" y1="271.0" x2="818.6" y2="495.0" stroke="#333" stroke-width="0.6"/>
<line x1="817.2" y1="271.0" x2="817.2" y2="495.0" stroke="#999" stroke-width="0.3" stroke-dasharray="4 1 1 1"/>
<line x1="826.7" y1="271.0" x2="826.7" y2="305.0" stroke="#333" stroke-width="0.6"/>
<line x1="829.0" y1="271.0" x2="829.0" y2="305.0" stroke="#333" stroke-width="0.6"/>
<circle cx="826.3" cy="281.0" r="2.6" fill="#ccc" stroke="#333" stroke-width="0.6"/>
<circle cx="831.2" cy="312.4" r="7.5" fill="#fff" stroke="#333" stroke-width="0.7"/>
<line x1="831.2" y1="303.0" x2="831.2" y2="322.0" stroke="#888" stroke-width="0.3" stroke-dasharray="4 1 1 1"/>
<line x1="822.0" y1="312.4" x2="840.0" y2="312.4" stroke="#888" stroke-width="0.3" stroke-dasharray="4 1 1 1"/>
<rect x="824.5" y="301.0" width="5.0" height="5.0" rx="0" fill="none" stroke="#333" stroke-width="0.5"/>
<rect x="833.5" y="301.0" width="5.0" height="5.0" rx="0" fill="none" stroke="#333" stroke-width="0.5"/>
<rect x="833.5" y="271.0" width="5.8" height="27.0" rx="0" fill="none" stroke="#333" stroke-width="0.6"/>
<rect x="834.7" y="273.0" width="3.4" height="23.0" rx="0" fill="#ccc" stroke="#555" stroke-width="0.4"/>
<line x1="836.4" y1="271.0" x2="836.4" y2="265.0" stroke="#333" stroke-width="0.6"/>
<path d="M835.7 248 L850 248 Q853 248 853 251 L853 253" fill="none" stroke="#333" stroke-width="0.6"/>
<rect x="833.0" y="244.6" width="6.0" height="8.0" rx="0" fill="none" stroke="#333" stroke-width="0.5"/>
<line x1="838.0" y1="247.0" x2="863.5" y2="247.0" stroke="#333" stroke-width="0.6"/>
<line x1="838.0" y1="249.5" x2="863.5" y2="249.5" stroke="#333" stroke-width="0.6"/>
<rect x="846.0" y="245.0" width="4.0" height="6.0" rx="0" fill="none" stroke="#333" stroke-width="0.5"/>
<rect x="862.5" y="244.0" width="4.5" height="7.0" rx="0" fill="none" stroke="#333" stroke-width="0.5"/>
<circle cx="872.0" cy="248.0" r="1.8" fill="#ccc" stroke="#333" stroke-width="0.6"/>
<circle cx="885.0" cy="248.0" r="1.8" fill="#ccc" stroke="#333" stroke-width="0.6"/>
<line x1="866.0" y1="247.0" x2="893.0" y2="247.0" stroke="#333" stroke-width="0.6"/>
<line x1="866.0" y1="249.5" x2="893.0" y2="249.5" stroke="#333" stroke-width="0.6"/>
<path d="M893 246 Q898 246 898 251 L898 256" fill="none" stroke="#333" stroke-width="0.8"/>
<path d="M889 248 L897 248" fill="none" stroke="#333" stroke-width="0.6"/>
<circle cx="894.0" cy="252.0" r="2.6" fill="none" stroke="#333" stroke-width="0.6"/>
<line x1="895.0" y1="255.0" x2="895.0" y2="482.0" stroke="#333" stroke-width="0.7"/>
<line x1="897.7" y1="255.0" x2="897.7" y2="482.0" stroke="#333" stroke-width="0.7"/>
<line x1="896.3" y1="255.0" x2="896.3" y2="482.0" stroke="#999" stroke-width="0.3" stroke-dasharray="4 1 1 1"/>
<line x1="863.5" y1="243.0" x2="863.5" y2="345.0" stroke="#444" stroke-width="0.5" stroke-dasharray="3 1.5"/>
<line x1="789.9" y1="248.6" x2="789.9" y2="472.0" stroke="#666" stroke-width="0.5"/>
<text transform="translate(790.5 356.0) rotate(-90)" x="0" y="0" font-size="3.6" textLength="6.0" lengthAdjust="spacingAndGlyphs" fill="#555" font-family="Liberation Sans">A 3</text>
<line x1="802.5" y1="252.0" x2="802.5" y2="320.0" stroke="#666" stroke-width="0.5"/>
<line x1="800.0" y1="252.0" x2="812.0" y2="252.0" stroke="#666" stroke-width="0.5"/>
<line x1="800.0" y1="265.0" x2="815.0" y2="265.0" stroke="#666" stroke-width="0.5"/>
<line x1="800.0" y1="301.0" x2="815.0" y2="301.0" stroke="#666" stroke-width="0.5"/>
<line x1="800.0" y1="320.0" x2="824.0" y2="320.0" stroke="#666" stroke-width="0.5"/>
<text transform="translate(803.0 261.0) rotate(-90)" x="0" y="0" font-size="3.6" textLength="5.0" lengthAdjust="spacingAndGlyphs" fill="#555" font-family="Liberation Sans">04</text>
<text transform="translate(803.0 284.0) rotate(-90)" x="0" y="0" font-size="3.6" textLength="6.0" lengthAdjust="spacingAndGlyphs" fill="#555" font-family="Liberation Sans">11</text>
<text transform="translate(803.0 312.0) rotate(-90)" x="0" y="0" font-size="3.6" textLength="5.0" lengthAdjust="spacingAndGlyphs" fill="#555" font-family="Liberation Sans">4.</text>
<line x1="808.0" y1="272.0" x2="808.0" y2="292.0" stroke="#666" stroke-width="0.5"/>
<text transform="translate(808.6 283.0) rotate(-90)" x="0" y="0" font-size="3.6" textLength="6.0" lengthAdjust="spacingAndGlyphs" fill="#555" font-family="Liberation Sans">3x4</text>
<line x1="805.0" y1="279.0" x2="815.0" y2="279.0" stroke="#666" stroke-width="0.5"/>
<line x1="805.0" y1="283.0" x2="815.0" y2="283.0" stroke="#666" stroke-width="0.5"/>
<line x1="846.0" y1="259.5" x2="864.0" y2="259.5" stroke="#666" stroke-width="0.5"/>
<line x1="857.5" y1="248.0" x2="857.5" y2="303.0" stroke="#666" stroke-width="0.5"/>
<text transform="translate(857.8 264.0) rotate(-90)" x="0" y="0" font-size="3.6" textLength="6.0" lengthAdjust="spacingAndGlyphs" fill="#555" font-family="Liberation Sans">.5t</text>
<line x1="846.0" y1="303.0" x2="867.0" y2="303.0" stroke="#666" stroke-width="0.5"/>
<line x1="844.0" y1="265.0" x2="844.0" y2="303.0" stroke="#666" stroke-width="0.5"/>
<text transform="translate(844.6 282.0) rotate(-90)" x="0" y="0" font-size="3.6" textLength="7.0" lengthAdjust="spacingAndGlyphs" fill="#555" font-family="Liberation Sans">2-</text>
<text transform="translate(852.6 288.0) rotate(-90)" x="0" y="0" font-size="3.6" textLength="6.0" lengthAdjust="spacingAndGlyphs" fill="#555" font-family="Liberation Sans">O25</text>
<line x1="852.0" y1="285.0" x2="852.0" y2="303.0" stroke="#666" stroke-width="0.5"/>
<line x1="839.0" y1="265.0" x2="848.0" y2="265.0" stroke="#666" stroke-width="0.5"/>
<path d="M838 298 L843 320 L846 320" fill="none" stroke="#666" stroke-width="0.5"/>
<text x="846.0" y="315.2" font-size="3.6" textLength="22.0" lengthAdjust="spacingAndGlyphs" fill="#555" font-family="Liberation Sans">O76.3 LOWE</text>
<text x="851.0" y="319.2" font-size="3.6" textLength="14.0" lengthAdjust="spacingAndGlyphs" fill="#555" font-family="Liberation Sans">ST TANK</text>
<text x="844.5" y="323.2" font-size="3.6" textLength="24.0" lengthAdjust="spacingAndGlyphs" fill="#555" font-family="Liberation Sans">BOTTOM TANK</text>
<rect x="843.5" y="312.0" width="25.0" height="11.0" rx="0" fill="none" stroke="#999" stroke-width="0.3"/>
<text x="831.0" y="335.7" font-size="3.6" textLength="37.0" lengthAdjust="spacingAndGlyphs" fill="#555" font-family="Liberation Sans">INSIDE HEIGHT H M</text>
<text x="831.5" y="339.2" font-size="3.6" textLength="23.0" lengthAdjust="spacingAndGlyphs" fill="#555" font-family="Liberation Sans">EASURING HE</text>
<path d="M864 333 L868 333 L883 325" fill="none" stroke="#666" stroke-width="0.5"/>
<path d="M858 340 L883 327" fill="none" stroke="#666" stroke-width="0.5"/>
<rect x="883.3" y="323.2" width="26.0" height="5.4" rx="0" fill="#eee" stroke="#333" stroke-width="0.5"/>
<circle cx="885.0" cy="322.0" r="1.8" fill="#bbb" stroke="#333" stroke-width="0.6"/>
<circle cx="907.0" cy="322.0" r="1.8" fill="#bbb" stroke="#333" stroke-width="0.6"/>
<line x1="883.3" y1="326.0" x2="909.3" y2="326.0" stroke="#444" stroke-width="1.2"/>
<line x1="936.5" y1="250.4" x2="936.5" y2="345.0" stroke="#666" stroke-width="0.5"/>
<line x1="930.0" y1="325.7" x2="940.0" y2="325.7" stroke="#666" stroke-width="0.5"/>
<text transform="translate(939.3 286.0) rotate(-90)" x="0" y="0" font-size="3.6" textLength="6.0" lengthAdjust="spacingAndGlyphs" fill="#555" font-family="Liberation Sans">IGH</text>
<text transform="translate(939.3 338.0) rotate(-90)" x="0" y="0" font-size="3.6" textLength="6.0" lengthAdjust="spacingAndGlyphs" fill="#555" font-family="Liberation Sans">T M</text>
<line x1="857.5" y1="345.3" x2="937.3" y2="345.3" stroke="#333" stroke-width="0.6" stroke-dasharray="4 1 1 1"/>
<line x1="857.5" y1="345.3" x2="857.5" y2="472.0" stroke="#333" stroke-width="0.6"/>
<line x1="859.8" y1="345.3" x2="859.8" y2="472.0" stroke="#333" stroke-width="0.5"/>
<line x1="789.4" y1="472.0" x2="937.0" y2="472.0" stroke="#333" stroke-width="0.6" stroke-dasharray="4 1 1 1"/>
<line x1="889.2" y1="328.0" x2="889.2" y2="472.0" stroke="#333" stroke-width="0.7"/>
<line x1="903.3" y1="328.0" x2="903.3" y2="472.0" stroke="#333" stroke-width="0.7"/>
<circle cx="889.2" cy="345.5" r="1.7" fill="#bbb" stroke="#333" stroke-width="0.6"/>
<circle cx="903.3" cy="345.5" r="1.7" fill="#bbb" stroke="#333" stroke-width="0.6"/>
<line x1="896.3" y1="360.0" x2="913.0" y2="362.0" stroke="#666" stroke-width="0.4"/>
<text x="905.0" y="362.2" font-size="3.6" textLength="12.0" lengthAdjust="spacingAndGlyphs" fill="#555" font-family="Liberation Sans">SUPPO</text>
<text x="904.0" y="366.7" font-size="3.6" textLength="15.0" lengthAdjust="spacingAndGlyphs" fill="#555" font-family="Liberation Sans">RT 2X0</text>
<rect x="903.5" y="363.0" width="16.0" height="4.0" rx="0" fill="none" stroke="#999" stroke-width="0.3"/>
<line x1="903.3" y1="373.0" x2="903.3" y2="380.0" stroke="#666" stroke-width="0.4"/>
<line x1="889.2" y1="398.0" x2="910.0" y2="398.0" stroke="#666" stroke-width="0.4"/>
<text x="906.0" y="392.7" font-size="3.6" textLength="14.0" lengthAdjust="spacingAndGlyphs" fill="#555" font-family="Liberation Sans">L300 GU</text>
<text x="905.0" y="396.2" font-size="3.6" textLength="20.0" lengthAdjust="spacingAndGlyphs" fill="#555" font-family="Liberation Sans">IDE PIPE 2</text>
<text x="905.0" y="400.2" font-size="3.6" textLength="21.0" lengthAdjust="spacingAndGlyphs" fill="#555" font-family="Liberation Sans">-M8x20L 18</text>
<rect x="904.5" y="396.5" width="23.0" height="4.0" rx="0" fill="none" stroke="#999" stroke-width="0.3"/>
<line x1="935.0" y1="345.0" x2="935.0" y2="472.0" stroke="#666" stroke-width="0.5"/>
<text transform="translate(935.6 430.0) rotate(-90)" x="0" y="0" font-size="3.6" textLength="40.0" lengthAdjust="spacingAndGlyphs" fill="#555" font-family="Liberation Sans">4.0 220 156.9 28.4 S</text>
<text transform="translate(938.3 348.0) rotate(-90)" x="0" y="0" font-size="3.6" textLength="8.0" lengthAdjust="spacingAndGlyphs" fill="#555" font-family="Liberation Sans">ILIC</text>
<line x1="926.0" y1="345.3" x2="938.0" y2="345.3" stroke="#666" stroke-width="0.5"/>
<line x1="926.0" y1="472.0" x2="938.0" y2="472.0" stroke="#666" stroke-width="0.5"/>
<rect x="890.4" y="449.7" width="9.3" height="21.2" rx="0" fill="none" stroke="#333" stroke-width="0.6"/>
<line x1="890.4" y1="460.0" x2="899.7" y2="451.0" stroke="#666" stroke-width="0.4"/>
<circle cx="895.0" cy="445.0" r="1.8" fill="none" stroke="#333" stroke-width="0.6"/>
<line x1="896.3" y1="430.0" x2="896.3" y2="472.0" stroke="#999" stroke-width="0.3" stroke-dasharray="4 1 1 1"/>
<line x1="880.0" y1="440.0" x2="896.0" y2="440.0" stroke="#666" stroke-width="0.5"/>
<text x="880.8" y="441.2" font-size="3.6" textLength="8.0" lengthAdjust="spacingAndGlyphs" fill="#555" font-family="Liberation Sans">ONE</text>
<text transform="translate(881.0 456.0) rotate(-90)" x="0" y="0" font-size="3.6" textLength="13.0" lengthAdjust="spacingAndGlyphs" fill="#555" font-family="Liberation Sans">OIL FI</text>
<line x1="881.0" y1="440.0" x2="881.0" y2="472.0" stroke="#666" stroke-width="0.5"/>
<text x="905.0" y="446.2" font-size="3.6" textLength="10.0" lengthAdjust="spacingAndGlyphs" fill="#555" font-family="Liberation Sans">LTER</text>
<path d="M905 445.5 L903 452" fill="none" stroke="#666" stroke-width="0.4"/>
<line x1="907.5" y1="446.0" x2="907.5" y2="472.0" stroke="#666" stroke-width="0.5"/>
<line x1="911.0" y1="452.0" x2="911.0" y2="472.0" stroke="#666" stroke-width="0.5"/>
<text transform="translate(908.1 463.0) rotate(-90)" x="0" y="0" font-size="3.6" textLength="5.0" lengthAdjust="spacingAndGlyphs" fill="#555" font-family="Liberation Sans">DE</text>
<text transform="translate(912.3 461.0) rotate(-90)" x="0" y="0" font-size="3.6" textLength="5.0" lengthAdjust="spacingAndGlyphs" fill="#555" font-family="Liberation Sans">AC</text>
<line x1="899.7" y1="471.0" x2="915.0" y2="471.0" stroke="#666" stroke-width="0.5"/>
<line x1="899.7" y1="453.0" x2="913.0" y2="453.0" stroke="#666" stroke-width="0.5"/>
<text transform="translate(931.8 479.0) rotate(-90)" x="0" y="0" font-size="3.6" textLength="5.0" lengthAdjust="spacingAndGlyphs" fill="#555" font-family="Liberation Sans">KI</text>
<line x1="931.0" y1="470.0" x2="931.0" y2="480.0" stroke="#666" stroke-width="0.5"/>
<rect x="792.9" y="420.4" width="28.2" height="35.2" rx="1.5" fill="#fff" stroke="#333" stroke-width="0.7"/>
<rect x="794.5" y="422.0" width="13.0" height="31.0" rx="4" fill="none" stroke="#333" stroke-width="0.6"/>
<rect x="796.0" y="424.0" width="10.0" height="27.0" rx="2.5" fill="none" stroke="#555" stroke-width="0.4"/>
<line x1="801.0" y1="426.0" x2="801.0" y2="449.0" stroke="#777" stroke-width="1.2"/>
<rect x="808.5" y="437.0" width="9.0" height="6.0" rx="0" fill="#222" stroke="#111" stroke-width="0.4"/>
<text x="809.0" y="428.2" font-size="3.6" textLength="8.0" lengthAdjust="spacingAndGlyphs" fill="#555" font-family="Liberation Sans">NG (</text>
<text x="810.0" y="450.5" font-size="3.6" textLength="5.0" lengthAdjust="spacingAndGlyphs" fill="#555" font-family="Liberation Sans">YA</text>
<rect x="821.1" y="424.0" width="2.5" height="6.0" rx="0" fill="none" stroke="#333" stroke-width="0.4"/>
<rect x="821.1" y="446.0" width="2.5" height="6.0" rx="0" fill="none" stroke="#333" stroke-width="0.4"/>
<line x1="816.4" y1="409.8" x2="816.4" y2="420.4" stroke="#333" stroke-width="0.8"/>
<circle cx="816.4" cy="409.8" r="2.6" fill="#ccc" stroke="#333" stroke-width="0.6"/>
<circle cx="816.4" cy="412.5" r="1.6" fill="none" stroke="#333" stroke-width="0.5"/>
<line x1="815.2" y1="330.0" x2="815.2" y2="407.0" stroke="#333" stroke-width="0.6"/>
<line x1="817.6" y1="330.0" x2="817.6" y2="407.0" stroke="#333" stroke-width="0.6"/>
<line x1="792.9" y1="418.0" x2="821.0" y2="418.0" stroke="#666" stroke-width="0.5"/>
<line x1="792.9" y1="416.0" x2="792.9" y2="420.0" stroke="#666" stroke-width="0.5"/>
<line x1="821.0" y1="416.0" x2="821.0" y2="420.0" stroke="#666" stroke-width="0.5"/>
<text x="800.0" y="416.7" font-size="3.6" textLength="8.0" lengthAdjust="spacingAndGlyphs" fill="#555" font-family="Liberation Sans">RD S</text>
<line x1="792.9" y1="466.2" x2="821.0" y2="466.2" stroke="#666" stroke-width="0.5"/>
<line x1="792.9" y1="456.0" x2="792.9" y2="468.0" stroke="#666" stroke-width="0.5"/>
<line x1="821.0" y1="456.0" x2="821.0" y2="468.0" stroke="#666" stroke-width="0.5"/>
<text x="803.0" y="465.7" font-size="3.6" textLength="6.0" lengthAdjust="spacingAndGlyphs" fill="#555" font-family="Liberation Sans">UPP</text>
<line x1="789.4" y1="437.0" x2="792.9" y2="437.0" stroke="#666" stroke-width="0.5"/>
<text transform="translate(790.0 451.0) rotate(-90)" x="0" y="0" font-size="3.6" textLength="6.0" lengthAdjust="spacingAndGlyphs" fill="#555" font-family="Liberation Sans">LY)</text>
<text transform="translate(790.0 400.0) rotate(-90)" x="0" y="0" font-size="3.6" textLength="5.0" lengthAdjust="spacingAndGlyphs" fill="#555" font-family="Liberation Sans">B</text>
<rect x="810.5" y="368.7" width="47.0" height="5.9" rx="0" fill="#fff" stroke="#333" stroke-width="0.6"/>
<line x1="813.0" y1="371.5" x2="820.0" y2="371.5" stroke="#555" stroke-width="1.2"/>
<line x1="821.1" y1="426.3" x2="857.5" y2="426.3" stroke="#333" stroke-width="0.6" stroke-dasharray="3 1"/>
<line x1="821.1" y1="447.4" x2="857.5" y2="447.4" stroke="#333" stroke-width="0.6" stroke-dasharray="3 1"/>
<path d="M843 412 L846 426" fill="none" stroke="#666" stroke-width="0.5"/>
<text x="843.0" y="406.2" font-size="3.6" textLength="37.0" lengthAdjust="spacingAndGlyphs" fill="#555" font-family="Liberation Sans">OLT,NUT,S/W FLOOR</text>
<text x="843.0" y="410.2" font-size="3.6" textLength="22.0" lengthAdjust="spacingAndGlyphs" fill="#555" font-family="Liberation Sans">(GR) TANK T</text>
<line x1="841.0" y1="410.5" x2="880.0" y2="410.5" stroke="#999" stroke-width="0.4"/>
<line x1="826.0" y1="403.0" x2="826.0" y2="425.0" stroke="#666" stroke-width="0.5"/>
<text transform="translate(828.6 410.0) rotate(-90)" x="0" y="0" font-size="3.6" textLength="5.0" lengthAdjust="spacingAndGlyphs" fill="#555" font-family="Liberation Sans">OP</text>
<text transform="translate(828.6 418.0) rotate(-90)" x="0" y="0" font-size="3.6" textLength="5.0" lengthAdjust="spacingAndGlyphs" fill="#555" font-family="Liberation Sans">S</text>
<line x1="820.0" y1="403.0" x2="830.0" y2="403.0" stroke="#666" stroke-width="0.5"/>
<line x1="820.0" y1="409.8" x2="830.0" y2="409.8" stroke="#666" stroke-width="0.5"/>
<path d="M822 452 L808 479 L868 479" fill="none" stroke="#666" stroke-width="0.5"/>
<text x="809.0" y="479.6" font-size="3.6" textLength="59.0" lengthAdjust="spacingAndGlyphs" fill="#555" font-family="Liberation Sans">MA 304 114.3x4.5t 2-O25 O76.3</text>
<line x1="789.4" y1="465.0" x2="789.4" y2="472.0" stroke="#666" stroke-width="0.5"/>
</svg>
<div class="t" style="left:621.30px;top:151.13px;font-size:8.6px;line-height:11.18px;font-weight:normal;color:#333;transform:scaleX(0.718);">TOP MOUNTING</div>
<div class="t" style="left:627.00px;top:159.93px;font-size:8.6px;line-height:11.18px;font-weight:normal;color:#333;transform:scaleX(0.718);">(FL1- Series)</div>
<div class="t" style="left:624.40px;top:369.13px;font-size:8.3px;line-height:10.79px;font-weight:normal;color:#333;transform:scaleX(0.765);">SIDE MOUNTING</div>
<div class="t" style="left:630.20px;top:377.93px;font-size:8.3px;line-height:10.79px;font-weight:normal;color:#333;transform:scaleX(0.741);">(FL2x- Series)</div>
<div class="t" style="left:811.70px;top:191.93px;font-size:8.3px;line-height:10.79px;font-weight:normal;color:#333;transform:scaleX(0.749);">SIDE MOUNTING WITH SEAL PORT</div>
<div class="t" style="left:846.70px;top:200.93px;font-size:8.3px;line-height:10.79px;font-weight:normal;color:#333;transform:scaleX(0.740);">(FL3-Series)</div>
<svg width="1024" height="724" viewBox="0 0 1024 724">
<path d="M575 606.4 L582 606.4 L583.5 608 L588 608 Q590.4 608 590.4 611 L590.4 650 Q590.4 653 588 653 L583.5 653 L582 654.1 L575 654.1 Q573.1 654.1 573.1 652 L573.1 608.5 Q573.1 606.4 575 606.4 Z" fill="#fff" stroke="#555" stroke-width="0.6"/>
<line x1="583.5" y1="608.0" x2="583.5" y2="653.0" stroke="#555" stroke-width="0.6"/>
<line x1="585.0" y1="609.0" x2="585.0" y2="652.0" stroke="#888" stroke-width="0.4"/>
<line x1="587.8" y1="610.0" x2="587.8" y2="651.0" stroke="#999" stroke-width="0.4"/>
<path d="M574 613 L578 613 L578 616 L580 616 L580 624 L578 624" fill="none" stroke="#777" stroke-width="0.4"/>
<path d="M574 639 L577 635 L580 635 L580 642 L577 644 L577 654" fill="none" stroke="#777" stroke-width="0.4"/>
<rect x="578.5" y="619.5" width="2.0" height="3.0" rx="0" fill="none" stroke="#666" stroke-width="0.4"/>
<rect x="578.5" y="640.0" width="2.0" height="3.0" rx="0" fill="none" stroke="#666" stroke-width="0.4"/>
<line x1="570.4" y1="630.3" x2="594.5" y2="630.3" stroke="#777" stroke-width="0.5"/>
<line x1="575.9" y1="654.1" x2="575.9" y2="672.0" stroke="#555" stroke-width="0.6"/>
<line x1="580.7" y1="654.1" x2="580.7" y2="672.0" stroke="#555" stroke-width="0.6"/>
<rect x="578.0" y="659.0" width="3.0" height="2.0" rx="0" fill="#777" stroke="#444" stroke-width="0.4"/>
<line x1="573.0" y1="662.0" x2="582.0" y2="659.5" stroke="#666" stroke-width="0.5"/>
<line x1="568.3" y1="668.6" x2="604.9" y2="668.6" stroke="#777" stroke-width="0.5"/>
<path d="M575.9 668.6 L573.3 667.7 L573.3 669.5 Z" fill="#555"/>
<path d="M580.7 668.6 L583.3000000000001 667.7 L583.3000000000001 669.5 Z" fill="#555"/>
<rect x="641.5" y="607.8" width="37.3" height="45.6" rx="2" fill="#fff" stroke="#555" stroke-width="0.7"/>
<rect x="644.6" y="609.9" width="15.6" height="41.4" rx="6.5" fill="none" stroke="#555" stroke-width="0.6"/>
<rect x="646.8" y="612.4" width="11.6" height="36.2" rx="4.5" fill="none" stroke="#777" stroke-width="0.5"/>
<rect x="651.2" y="614.0" width="2.7" height="32.5" rx="0" fill="#ccc" stroke="#888" stroke-width="0.4"/>
<circle cx="643.8" cy="609.8" r="0.9" fill="none" stroke="#666" stroke-width="0.4"/>
<circle cx="643.8" cy="651.3" r="0.9" fill="none" stroke="#666" stroke-width="0.4"/>
<rect x="662.2" y="629.5" width="12.5" height="10.1" rx="0" fill="#fff" stroke="#333" stroke-width="0.6"/>
<rect x="663.2" y="630.5" width="5.0" height="8.0" rx="0" fill="#333" stroke="#333" stroke-width="0"/>
<line x1="668.0" y1="632.0" x2="673.5" y2="632.0" stroke="#444" stroke-width="0.5"/>
<line x1="668.0" y1="635.0" x2="673.5" y2="635.0" stroke="#444" stroke-width="0.5"/>
<rect x="663.5" y="614.2" width="4.5" height="1" fill="#555"/><rect x="669" y="614.2" width="5" height="1" fill="#555"/><rect x="663.5" y="616.4" width="4.5" height="1" fill="#555"/><rect x="669" y="616.4" width="5" height="1" fill="#555"/>
<path d="M665.5 646.5 L668 644 L669.5 645.8 L672 643" fill="none" stroke="#444" stroke-width="0.9"/>
<rect x="678.8" y="614.0" width="3.5" height="10.0" rx="0" fill="none" stroke="#555" stroke-width="0.5"/>
<line x1="679.5" y1="617.0" x2="682.0" y2="617.0" stroke="#777" stroke-width="0.4"/>
<rect x="678.8" y="637.0" width="3.5" height="10.0" rx="0" fill="none" stroke="#555" stroke-width="0.5"/>
<line x1="679.5" y1="640.0" x2="682.0" y2="640.0" stroke="#777" stroke-width="0.4"/>
<line x1="670.0" y1="607.5" x2="677.0" y2="607.5" stroke="#666" stroke-width="1"/>
<line x1="643.6" y1="653.4" x2="643.6" y2="661.7" stroke="#555" stroke-width="0.6"/>
<line x1="648.4" y1="653.4" x2="648.4" y2="661.7" stroke="#555" stroke-width="0.6"/>
<circle cx="645.5" cy="654.0" r="1.2" fill="none" stroke="#555" stroke-width="0.4"/>
<rect x="635.3" y="661.7" width="21.4" height="4.1" rx="0" fill="#fff" stroke="#555" stroke-width="0.6"/>
<circle cx="638.0" cy="663.7" r="1.0" fill="none" stroke="#555" stroke-width="0.5"/>
<circle cx="654.0" cy="663.7" r="1.0" fill="none" stroke="#555" stroke-width="0.5"/>
<line x1="637.0" y1="665.8" x2="637.0" y2="670.0" stroke="#777" stroke-width="0.5"/>
<line x1="655.0" y1="665.8" x2="655.0" y2="670.0" stroke="#777" stroke-width="0.5"/>
<line x1="641.5" y1="590.0" x2="641.5" y2="607.8" stroke="#777" stroke-width="0.5"/>
<line x1="678.8" y1="590.0" x2="678.8" y2="607.8" stroke="#777" stroke-width="0.5"/>
<line x1="641.5" y1="595.4" x2="678.8" y2="595.4" stroke="#777" stroke-width="0.5"/>
<path d="M641.5 595.4 L644.1 594.5 L644.1 596.3 Z" fill="#555"/>
<path d="M678.8 595.4 L676.1999999999999 594.5 L676.1999999999999 596.3 Z" fill="#555"/>
<line x1="620.0" y1="607.8" x2="641.5" y2="607.8" stroke="#777" stroke-width="0.5"/>
<line x1="620.0" y1="665.1" x2="637.0" y2="665.1" stroke="#777" stroke-width="0.5"/>
<line x1="626.3" y1="607.8" x2="626.3" y2="665.1" stroke="#777" stroke-width="0.5"/>
<path d="M626.3 607.8 L625.4 610.4 L627.1999999999999 610.4 Z" fill="#555"/>
<path d="M626.3 630.3 L625.4 627.6999999999999 L627.1999999999999 627.6999999999999 Z" fill="#555"/>
<path d="M626.3 630.3 L625.4 632.9 L627.1999999999999 632.9 Z" fill="#555"/>
<path d="M626.3 665.1 L625.4 662.5 L627.1999999999999 662.5 Z" fill="#555"/>
<line x1="625.0" y1="630.3" x2="681.6" y2="630.3" stroke="#777" stroke-width="0.5" stroke-dasharray="5 1.5 1 1.5"/>
<line x1="652.3" y1="590.0" x2="652.3" y2="679.0" stroke="#777" stroke-width="0.5" stroke-dasharray="5 1.5 1 1.5"/>
<line x1="645.7" y1="666.0" x2="645.7" y2="681.0" stroke="#777" stroke-width="0.5"/>
<line x1="660.0" y1="653.0" x2="660.0" y2="681.0" stroke="#777" stroke-width="0.5"/>
<line x1="645.7" y1="678.3" x2="660.0" y2="678.3" stroke="#777" stroke-width="0.5"/>
<path d="M645.7 678.3 L648.3000000000001 677.4 L648.3000000000001 679.1999999999999 Z" fill="#555"/>
<path d="M660 678.3 L657.4 677.4 L657.4 679.1999999999999 Z" fill="#555"/>
<line x1="811.9" y1="598.7" x2="864.5" y2="598.7" stroke="#777" stroke-width="0.5"/>
<path d="M842 598.7 L839.4 597.8000000000001 L839.4 599.6 Z" fill="#555"/>
<path d="M864.5 598.7 L867.1 597.8000000000001 L867.1 599.6 Z" fill="#555"/>
<line x1="842.0" y1="593.3" x2="842.0" y2="625.0" stroke="#777" stroke-width="0.5"/>
<line x1="864.5" y1="593.3" x2="864.5" y2="625.0" stroke="#777" stroke-width="0.5"/>
<path d="M842 621 Q842 614 853.3 613.7 Q864.5 614 864.5 621 L864.5 659 Q864.5 666 853.3 666.3 Q842 666 842 659 Z" fill="#fff" stroke="#555" stroke-width="0.6"/>
<line x1="842.0" y1="620.0" x2="864.5" y2="620.0" stroke="#888" stroke-width="0.4"/>
<line x1="842.0" y1="660.0" x2="864.5" y2="660.0" stroke="#888" stroke-width="0.4"/>
<line x1="842.0" y1="640.6" x2="864.5" y2="640.6" stroke="#777" stroke-width="0.5"/>
<path d="M851.8 613.8 L852.5 610.5 L854.1 610.5 L854.8 613.8" fill="none" stroke="#666" stroke-width="0.5"/>
<line x1="853.3" y1="607.0" x2="853.3" y2="669.0" stroke="#777" stroke-width="0.5" stroke-dasharray="5 1.5 1 1.5"/>
<line x1="855.0" y1="613.7" x2="888.2" y2="613.7" stroke="#777" stroke-width="0.5"/>
<line x1="855.0" y1="666.3" x2="888.2" y2="666.3" stroke="#777" stroke-width="0.5"/>
<line x1="882.8" y1="613.7" x2="882.8" y2="666.3" stroke="#777" stroke-width="0.5"/>
<path d="M882.8 613.7 L881.9 616.3000000000001 L883.6999999999999 616.3000000000001 Z" fill="#555"/>
<path d="M882.8 666.3 L881.9 663.6999999999999 L883.6999999999999 663.6999999999999 Z" fill="#555"/>
</svg>
<div class="t" style="left:654.10px;top:587.72px;font-size:7.2px;line-height:9.36px;font-weight:normal;color:#7a7a7a;transform:scaleX(1.000);letter-spacing:0.3px">210</div>
<div class="t" style="left:589.60px;top:661.12px;font-size:7.2px;line-height:9.36px;font-weight:normal;color:#7a7a7a;transform:scaleX(1.000);">18.5</div>
<div class="t" style="left:645.90px;top:670.22px;font-size:7.2px;line-height:9.36px;font-weight:normal;color:#7a7a7a;transform:scaleX(1.000);">79.6</div>
<div class="t" style="left:815.01px;top:589.82px;font-size:7.2px;line-height:9.36px;font-weight:normal;color:#7a7a7a;transform:scaleX(1.000);">ø76.3</div>
<div class="a" style="left:601.5px;top:614.5px;width:40px;height:10px;line-height:10px;text-align:center;font-size:7.2px;color:#7a7a7a;transform:rotate(-90deg)">127</div>
<div class="a" style="left:601.5px;top:642.9px;width:40px;height:10px;line-height:10px;text-align:center;font-size:7.2px;color:#7a7a7a;transform:rotate(-90deg)">196</div>
<div class="a" style="left:856.8px;top:635.6px;width:40px;height:10px;line-height:10px;text-align:center;font-size:7.2px;color:#7a7a7a;transform:rotate(-90deg)">180</div>
<div class="t" style="left:788.00px;top:690.03px;font-size:9.2px;line-height:11.96px;font-weight:normal;color:#8c8c8c;transform:scaleX(0.716);;letter-spacing:0.5px">Manufacturing Line Authorized by the Quality</div>
<svg width="1024" height="724" viewBox="0 0 1024 724">
<path d="M963.5 683.5 L969.5 678 Q972.0 675.8 974.5 675.8 Q977.0 675.8 979.0 674 L982.5 671.2" fill="none" stroke="#7b7b7b" stroke-width="2.3"/>
<path d="M968.8 683.5 L974.8 678 Q977.3 675.8 979.8 675.8 Q982.3 675.8 984.3 674 L987.8 671.2" fill="none" stroke="#7b7b7b" stroke-width="2.3"/>
<path d="M974.1 683.5 L980.1 678 Q982.6 675.8 985.1 675.8 Q987.6 675.8 989.6 674 L993.1 671.2" fill="none" stroke="#7b7b7b" stroke-width="2.3"/>
<path d="M950 698.8 L958.5 692.2" fill="none" stroke="#7b7b7b" stroke-width="2.1"/>
<path d="M951.5 702.8 L965.5 691.8" fill="none" stroke="#7b7b7b" stroke-width="2.1"/>
<path d="M957.8 701.6 L969 692.2" fill="none" stroke="#7b7b7b" stroke-width="2.1"/>
</svg>
<div class="t" style="left:947.00px;top:680.44px;font-size:11.5px;line-height:14.95px;font-weight:bold;color:#7b7b7b;transform:scaleX(1.207);font-style:italic;-webkit-text-stroke:1.1px #7b7b7b">HANLA</div>
<div class="t" style="left:977.00px;top:691.53px;font-size:7.6px;line-height:9.88px;font-weight:bold;color:#7b7b7b;transform:scaleX(1.355);font-style:italic;-webkit-text-stroke:0.6px #7b7b7b">IMS</div>
</body></html>
